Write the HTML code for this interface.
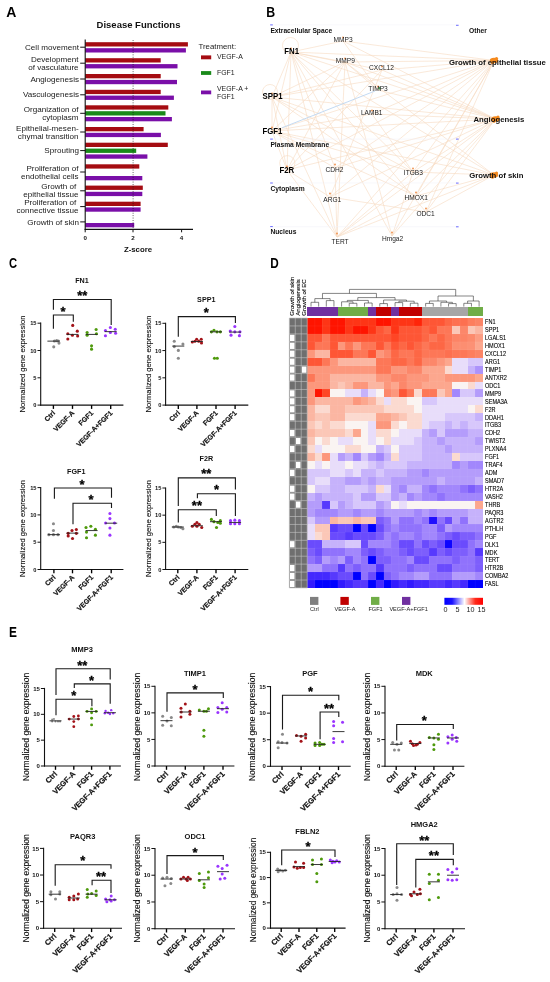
<!DOCTYPE html>
<html><head><meta charset="utf-8"><title>Figure</title>
<style>html,body{margin:0;padding:0;background:#fff}svg{display:block}text{font-family:'Liberation Sans', sans-serif}</style>
</head><body>
<svg width="550" height="982" viewBox="0 0 550 982">
<rect x="0" y="0" width="550" height="982" fill="#ffffff"/>
<text transform="translate(6.3,16.9) scale(1.0,1)" font-size="14" font-weight="bold" fill="#000">A</text>
<text transform="translate(96.60,27.60) scale(1.145,1)" font-size="8.3" font-weight="bold" text-anchor="start" fill="#111">Disease Functions</text>
<rect x="85.20" y="42.20" width="102.70" height="4.30" fill="#a50c12"/>
<rect x="85.20" y="48.20" width="100.70" height="4.30" fill="#7a0fa8"/>
<rect x="85.20" y="58.20" width="75.50" height="4.30" fill="#a50c12"/>
<rect x="85.20" y="64.10" width="92.30" height="4.30" fill="#7a0fa8"/>
<rect x="85.20" y="74.00" width="75.50" height="4.30" fill="#a50c12"/>
<rect x="85.20" y="79.90" width="91.80" height="4.30" fill="#7a0fa8"/>
<rect x="85.20" y="89.80" width="75.50" height="4.30" fill="#a50c12"/>
<rect x="85.20" y="95.60" width="88.70" height="4.30" fill="#7a0fa8"/>
<rect x="85.20" y="105.30" width="83.10" height="4.30" fill="#a50c12"/>
<rect x="85.20" y="111.20" width="80.30" height="4.30" fill="#1a8a1a"/>
<rect x="85.20" y="117.00" width="86.70" height="4.30" fill="#7a0fa8"/>
<rect x="85.20" y="127.00" width="58.40" height="4.30" fill="#a50c12"/>
<rect x="85.20" y="132.80" width="75.70" height="4.30" fill="#7a0fa8"/>
<rect x="85.20" y="142.70" width="82.60" height="4.30" fill="#a50c12"/>
<rect x="85.20" y="148.60" width="51.00" height="4.30" fill="#1a8a1a"/>
<rect x="85.20" y="154.40" width="62.20" height="4.30" fill="#7a0fa8"/>
<rect x="85.20" y="164.30" width="54.10" height="4.30" fill="#a50c12"/>
<rect x="85.20" y="176.00" width="57.10" height="4.30" fill="#7a0fa8"/>
<rect x="85.20" y="185.60" width="57.60" height="4.30" fill="#a50c12"/>
<rect x="85.20" y="191.80" width="57.10" height="4.30" fill="#7a0fa8"/>
<rect x="85.20" y="201.70" width="55.40" height="4.30" fill="#a50c12"/>
<rect x="85.20" y="207.40" width="55.40" height="4.30" fill="#7a0fa8"/>
<rect x="85.20" y="223.00" width="49.00" height="4.30" fill="#7a0fa8"/>
<line x1="133.10" y1="40.00" x2="133.10" y2="229.00" stroke="#111" stroke-width="0.7" stroke-dasharray="0.9 1.5"/>
<line x1="85.20" y1="39.50" x2="85.20" y2="229.90" stroke="#111" stroke-width="1.1"/>
<line x1="84.70" y1="229.40" x2="193.00" y2="229.40" stroke="#111" stroke-width="1.1"/>
<line x1="85.20" y1="229.40" x2="85.20" y2="232.30" stroke="#111" stroke-width="1"/>
<text x="85.20" y="239.50" font-size="6.2" font-weight="bold" text-anchor="middle" fill="#111">0</text>
<line x1="133.00" y1="229.40" x2="133.00" y2="232.30" stroke="#111" stroke-width="1"/>
<text x="133.00" y="239.50" font-size="6.2" font-weight="bold" text-anchor="middle" fill="#111">2</text>
<line x1="181.60" y1="229.40" x2="181.60" y2="232.30" stroke="#111" stroke-width="1"/>
<text x="181.60" y="239.50" font-size="6.2" font-weight="bold" text-anchor="middle" fill="#111">4</text>
<text x="138.00" y="252.40" font-size="7.8" font-weight="bold" text-anchor="middle" fill="#111">Z-score</text>
<line x1="80.20" y1="47.20" x2="85.20" y2="47.20" stroke="#111" stroke-width="1"/>
<text transform="translate(79.00,49.80) scale(1.125,1)" font-size="7.2" font-weight="normal" text-anchor="end" fill="#1a1a1a">Cell movement</text>
<line x1="80.20" y1="63.20" x2="85.20" y2="63.20" stroke="#111" stroke-width="1"/>
<text transform="translate(78.60,61.70) scale(1.125,1)" font-size="7.2" font-weight="normal" text-anchor="end" fill="#1a1a1a">Development</text>
<text transform="translate(78.60,69.80) scale(1.125,1)" font-size="7.2" font-weight="normal" text-anchor="end" fill="#1a1a1a">of vasculature</text>
<line x1="80.20" y1="79.00" x2="85.20" y2="79.00" stroke="#111" stroke-width="1"/>
<text transform="translate(79.00,81.60) scale(1.125,1)" font-size="7.2" font-weight="normal" text-anchor="end" fill="#1a1a1a">Angiogenesis</text>
<line x1="80.20" y1="94.80" x2="85.20" y2="94.80" stroke="#111" stroke-width="1"/>
<text transform="translate(79.00,97.40) scale(1.125,1)" font-size="7.2" font-weight="normal" text-anchor="end" fill="#1a1a1a">Vasculogenesis</text>
<line x1="80.20" y1="113.30" x2="85.20" y2="113.30" stroke="#111" stroke-width="1"/>
<text transform="translate(78.60,111.80) scale(1.125,1)" font-size="7.2" font-weight="normal" text-anchor="end" fill="#1a1a1a">Organization of</text>
<text transform="translate(78.60,119.90) scale(1.125,1)" font-size="7.2" font-weight="normal" text-anchor="end" fill="#1a1a1a">cytoplasm</text>
<line x1="80.20" y1="132.00" x2="85.20" y2="132.00" stroke="#111" stroke-width="1"/>
<text transform="translate(78.60,130.50) scale(1.125,1)" font-size="7.2" font-weight="normal" text-anchor="end" fill="#1a1a1a">Epithelial-mesen-</text>
<text transform="translate(78.60,138.60) scale(1.125,1)" font-size="7.2" font-weight="normal" text-anchor="end" fill="#1a1a1a">chymal transition</text>
<line x1="80.20" y1="150.60" x2="85.20" y2="150.60" stroke="#111" stroke-width="1"/>
<text transform="translate(79.00,153.20) scale(1.125,1)" font-size="7.2" font-weight="normal" text-anchor="end" fill="#1a1a1a">Sprouting</text>
<line x1="80.20" y1="172.00" x2="85.20" y2="172.00" stroke="#111" stroke-width="1"/>
<text transform="translate(78.60,170.50) scale(1.125,1)" font-size="7.2" font-weight="normal" text-anchor="end" fill="#1a1a1a">Proliferation of</text>
<text transform="translate(78.60,178.60) scale(1.125,1)" font-size="7.2" font-weight="normal" text-anchor="end" fill="#1a1a1a">endothelial cells</text>
<line x1="80.20" y1="190.80" x2="85.20" y2="190.80" stroke="#111" stroke-width="1"/>
<text transform="translate(78.60,189.30) scale(1.125,1)" font-size="7.2" font-weight="normal" text-anchor="end" fill="#1a1a1a">Growth of </text>
<text transform="translate(78.60,197.40) scale(1.125,1)" font-size="7.2" font-weight="normal" text-anchor="end" fill="#1a1a1a">epithelial tissue</text>
<line x1="80.20" y1="206.60" x2="85.20" y2="206.60" stroke="#111" stroke-width="1"/>
<text transform="translate(78.60,205.10) scale(1.125,1)" font-size="7.2" font-weight="normal" text-anchor="end" fill="#1a1a1a">Proliferation of </text>
<text transform="translate(78.60,213.20) scale(1.125,1)" font-size="7.2" font-weight="normal" text-anchor="end" fill="#1a1a1a">connective tissue</text>
<line x1="80.20" y1="221.90" x2="85.20" y2="221.90" stroke="#111" stroke-width="1"/>
<text transform="translate(79.00,224.50) scale(1.125,1)" font-size="7.2" font-weight="normal" text-anchor="end" fill="#1a1a1a">Growth of skin</text>
<text transform="translate(198.50,49.10) scale(1.12,1)" font-size="7.0" font-weight="normal" text-anchor="start" fill="#222">Treatment:</text>
<rect x="201.00" y="55.40" width="10.20" height="3.90" fill="#a50c12"/>
<text transform="translate(217.00,59.30) scale(1.1,1)" font-size="6.3" font-weight="normal" text-anchor="start" fill="#1c1c1c">VEGF-A</text>
<rect x="201.00" y="71.10" width="10.20" height="3.80" fill="#1a8a1a"/>
<text transform="translate(217.00,74.90) scale(1.1,1)" font-size="6.3" font-weight="normal" text-anchor="start" fill="#1c1c1c">FGF1</text>
<rect x="201.00" y="90.50" width="10.20" height="3.80" fill="#7a0fa8"/>
<text transform="translate(217.00,90.50) scale(1.1,1)" font-size="6.3" font-weight="normal" text-anchor="start" fill="#1c1c1c">VEGF-A +</text>
<text transform="translate(217.00,98.60) scale(1.1,1)" font-size="6.3" font-weight="normal" text-anchor="start" fill="#1c1c1c">FGF1</text>
<text transform="translate(266.2,16.9) scale(0.88,1)" font-size="14" font-weight="bold" fill="#000">B</text>
<g stroke="#f5d3b6" stroke-width="0.6" fill="none" opacity="0.85">
<line x1="291" y1="52" x2="494" y2="60.5"/>
<line x1="291" y1="52" x2="495.5" y2="119"/>
<line x1="291" y1="52" x2="494" y2="175"/>
<line x1="343" y1="41" x2="494" y2="60.5"/>
<line x1="343" y1="41" x2="495.5" y2="119"/>
<line x1="345" y1="62" x2="494" y2="60.5"/>
<line x1="345" y1="62" x2="495.5" y2="119"/>
<line x1="345" y1="62" x2="494" y2="175"/>
<line x1="382" y1="70" x2="494" y2="60.5"/>
<line x1="382" y1="70" x2="495.5" y2="119"/>
<line x1="378" y1="90" x2="495.5" y2="119"/>
<line x1="372" y1="114" x2="494" y2="60.5"/>
<line x1="372" y1="114" x2="495.5" y2="119"/>
<line x1="272" y1="97" x2="494" y2="60.5"/>
<line x1="272" y1="97" x2="495.5" y2="119"/>
<line x1="272" y1="97" x2="494" y2="175"/>
<line x1="272" y1="131" x2="494" y2="60.5"/>
<line x1="272" y1="131" x2="495.5" y2="119"/>
<line x1="272" y1="131" x2="494" y2="175"/>
<line x1="287" y1="170" x2="494" y2="60.5"/>
<line x1="287" y1="170" x2="495.5" y2="119"/>
<line x1="335" y1="168" x2="494" y2="60.5"/>
<line x1="335" y1="168" x2="495.5" y2="119"/>
<line x1="413" y1="172" x2="494" y2="60.5"/>
<line x1="413" y1="172" x2="495.5" y2="119"/>
<line x1="413" y1="172" x2="494" y2="175"/>
<line x1="330" y1="197" x2="494" y2="60.5"/>
<line x1="330" y1="197" x2="495.5" y2="119"/>
<line x1="416" y1="196" x2="494" y2="60.5"/>
<line x1="416" y1="196" x2="495.5" y2="119"/>
<line x1="416" y1="196" x2="494" y2="175"/>
<line x1="426" y1="212" x2="494" y2="60.5"/>
<line x1="426" y1="212" x2="495.5" y2="119"/>
<line x1="426" y1="212" x2="494" y2="175"/>
<line x1="337" y1="237" x2="494" y2="60.5"/>
<line x1="337" y1="237" x2="495.5" y2="119"/>
<line x1="337" y1="237" x2="494" y2="175"/>
<line x1="392" y1="236" x2="494" y2="60.5"/>
<line x1="392" y1="236" x2="495.5" y2="119"/>
<line x1="291" y1="52" x2="272" y2="97"/>
<line x1="291" y1="52" x2="272" y2="131"/>
<line x1="291" y1="52" x2="287" y2="170"/>
<line x1="291" y1="52" x2="337" y2="237"/>
<line x1="291" y1="52" x2="345" y2="62"/>
<line x1="291" y1="52" x2="343" y2="41"/>
<line x1="291" y1="52" x2="382" y2="70"/>
<line x1="291" y1="52" x2="413" y2="172"/>
<line x1="291" y1="52" x2="335" y2="168"/>
<line x1="291" y1="52" x2="392" y2="236"/>
<line x1="291" y1="52" x2="426" y2="212"/>
<line x1="272" y1="97" x2="272" y2="131"/>
<line x1="272" y1="97" x2="345" y2="62"/>
<line x1="272" y1="97" x2="382" y2="70"/>
<line x1="272" y1="97" x2="413" y2="172"/>
<line x1="272" y1="97" x2="416" y2="196"/>
<line x1="272" y1="97" x2="337" y2="237"/>
<line x1="272" y1="97" x2="287" y2="170"/>
<line x1="272" y1="131" x2="287" y2="170"/>
<line x1="272" y1="131" x2="345" y2="62"/>
<line x1="272" y1="131" x2="335" y2="168"/>
<line x1="272" y1="131" x2="413" y2="172"/>
<line x1="272" y1="131" x2="372" y2="114"/>
<line x1="272" y1="131" x2="416" y2="196"/>
<line x1="287" y1="170" x2="330" y2="197"/>
<line x1="287" y1="170" x2="337" y2="237"/>
<line x1="287" y1="170" x2="345" y2="62"/>
<line x1="287" y1="170" x2="382" y2="70"/>
<line x1="345" y1="62" x2="337" y2="237"/>
<line x1="345" y1="62" x2="392" y2="236"/>
<line x1="382" y1="70" x2="330" y2="197"/>
<line x1="335" y1="168" x2="337" y2="237"/>
<line x1="330" y1="197" x2="426" y2="212"/>
<line x1="337" y1="237" x2="416" y2="196"/>
<line x1="337" y1="237" x2="413" y2="172"/>
<line x1="392" y1="236" x2="413" y2="172"/>
<line x1="372" y1="114" x2="413" y2="172"/>
<line x1="343" y1="41" x2="378" y2="90"/>
<line x1="378" y1="90" x2="345" y2="62"/>
<circle cx="290.5" cy="45.5" r="8"/><circle cx="270" cy="92" r="7.5"/><circle cx="287.3" cy="163.2" r="7.6"/>
</g>
<line x1="282.00" y1="127.80" x2="375.00" y2="91.00" stroke="#bcd6f2" stroke-width="0.9"/>
<circle cx="379.5" cy="88.2" r="1.3" fill="#58b45a"/>
<ellipse cx="494" cy="60.5" rx="4.2" ry="2.8" fill="#f58a1f"/>
<circle cx="496.5" cy="58.5" r="1.6" fill="#f58a1f"/><circle cx="492.5" cy="62.8" r="1.5" fill="#f58a1f"/>
<ellipse cx="495.5" cy="119" rx="4.2" ry="2.8" fill="#f58a1f"/>
<circle cx="498.0" cy="117" r="1.6" fill="#f58a1f"/><circle cx="494.0" cy="121.3" r="1.5" fill="#f58a1f"/>
<ellipse cx="494" cy="175" rx="4.2" ry="2.8" fill="#f58a1f"/>
<circle cx="496.5" cy="173" r="1.6" fill="#f58a1f"/><circle cx="492.5" cy="177.3" r="1.5" fill="#f58a1f"/>
<circle cx="291" cy="48.5" r="0.9" fill="#f0904a"/>
<circle cx="343" cy="37.5" r="0.9" fill="#f0904a"/>
<circle cx="345" cy="58.5" r="0.9" fill="#f0904a"/>
<circle cx="382" cy="66.5" r="0.9" fill="#f0904a"/>
<circle cx="378" cy="86.5" r="0.9" fill="#f0904a"/>
<circle cx="372" cy="110.5" r="0.9" fill="#f0904a"/>
<circle cx="272" cy="93.5" r="0.9" fill="#f0904a"/>
<circle cx="272" cy="127.5" r="0.9" fill="#f0904a"/>
<circle cx="287" cy="166.5" r="0.9" fill="#f0904a"/>
<circle cx="335" cy="164.5" r="0.9" fill="#f0904a"/>
<circle cx="413" cy="168.5" r="0.9" fill="#f0904a"/>
<circle cx="330" cy="193.5" r="0.9" fill="#f0904a"/>
<circle cx="416" cy="192.5" r="0.9" fill="#f0904a"/>
<circle cx="426" cy="208.5" r="0.9" fill="#f0904a"/>
<circle cx="337" cy="233.5" r="0.9" fill="#f0904a"/>
<circle cx="392" cy="232.5" r="0.9" fill="#f0904a"/>
<line x1="270.00" y1="24.90" x2="458.60" y2="24.90" stroke="#f3f3f9" stroke-width="0.6"/>
<line x1="270.00" y1="139.10" x2="458.60" y2="139.10" stroke="#f3f3f9" stroke-width="0.6"/>
<line x1="270.00" y1="183.00" x2="458.60" y2="183.00" stroke="#f3f3f9" stroke-width="0.6"/>
<line x1="270.00" y1="226.70" x2="458.60" y2="226.70" stroke="#f3f3f9" stroke-width="0.6"/>
<text x="270.40" y="33.30" font-size="6.7" font-weight="bold" text-anchor="start" fill="#111">Extracellular Space</text>
<text x="469.00" y="33.30" font-size="6.7" font-weight="bold" text-anchor="start" fill="#111">Other</text>
<text x="270.40" y="147.30" font-size="6.7" font-weight="bold" text-anchor="start" fill="#111">Plasma Membrane</text>
<text x="270.40" y="190.90" font-size="6.7" font-weight="bold" text-anchor="start" fill="#111">Cytoplasm</text>
<text x="270.40" y="234.30" font-size="6.7" font-weight="bold" text-anchor="start" fill="#111">Nucleus</text>
<line x1="270.20" y1="24.90" x2="272.80" y2="24.90" stroke="#5b5bff" stroke-width="0.9"/>
<line x1="456.00" y1="25.30" x2="458.60" y2="25.30" stroke="#5b5bff" stroke-width="0.9"/>
<line x1="270.20" y1="139.10" x2="272.80" y2="139.10" stroke="#5b5bff" stroke-width="0.9"/>
<line x1="456.00" y1="139.10" x2="458.60" y2="139.10" stroke="#5b5bff" stroke-width="0.9"/>
<line x1="270.20" y1="183.00" x2="272.80" y2="183.00" stroke="#5b5bff" stroke-width="0.9"/>
<line x1="456.00" y1="183.10" x2="458.60" y2="183.10" stroke="#5b5bff" stroke-width="0.9"/>
<line x1="270.20" y1="226.60" x2="272.80" y2="226.60" stroke="#5b5bff" stroke-width="0.9"/>
<line x1="456.00" y1="226.80" x2="458.60" y2="226.80" stroke="#5b5bff" stroke-width="0.9"/>
<text transform="translate(284.30,54.10) scale(0.93,1)" font-size="8.4" font-weight="bold" text-anchor="start" fill="#000">FN1</text>
<text transform="translate(262.50,98.60) scale(0.93,1)" font-size="8.4" font-weight="bold" text-anchor="start" fill="#000">SPP1</text>
<text transform="translate(262.50,133.60) scale(0.93,1)" font-size="8.4" font-weight="bold" text-anchor="start" fill="#000">FGF1</text>
<text transform="translate(279.50,173.20) scale(0.93,1)" font-size="8.4" font-weight="bold" text-anchor="start" fill="#000">F2R</text>
<text x="449.00" y="64.70" font-size="7.75" font-weight="bold" text-anchor="start" fill="#111">Growth of epithelial tissue</text>
<text x="473.50" y="121.50" font-size="7.75" font-weight="bold" text-anchor="start" fill="#111">Angiogenesis</text>
<text x="469.20" y="178.30" font-size="7.75" font-weight="bold" text-anchor="start" fill="#111">Growth of skin</text>
<text x="333.60" y="41.80" font-size="6.6" font-weight="normal" text-anchor="start" fill="#222">MMP3</text>
<text x="335.80" y="62.80" font-size="6.6" font-weight="normal" text-anchor="start" fill="#222">MMP9</text>
<text x="369.00" y="70.30" font-size="6.6" font-weight="normal" text-anchor="start" fill="#222">CXCL12</text>
<text x="368.30" y="90.60" font-size="6.6" font-weight="normal" text-anchor="start" fill="#222">TIMP3</text>
<text x="360.90" y="115.10" font-size="6.6" font-weight="normal" text-anchor="start" fill="#222">LAMB1</text>
<text x="325.50" y="172.30" font-size="6.6" font-weight="normal" text-anchor="start" fill="#222">CDH2</text>
<text x="403.80" y="175.30" font-size="6.6" font-weight="normal" text-anchor="start" fill="#222">ITGB3</text>
<text x="323.30" y="202.30" font-size="6.6" font-weight="normal" text-anchor="start" fill="#222">ARG1</text>
<text x="404.40" y="200.10" font-size="6.6" font-weight="normal" text-anchor="start" fill="#222">HMOX1</text>
<text x="416.40" y="216.20" font-size="6.6" font-weight="normal" text-anchor="start" fill="#222">ODC1</text>
<text x="331.50" y="244.00" font-size="6.6" font-weight="normal" text-anchor="start" fill="#222">TERT</text>
<text x="381.90" y="241.30" font-size="6.6" font-weight="normal" text-anchor="start" fill="#222">Hmga2</text>
<text transform="translate(9.0,268) scale(0.8,1)" font-size="14" font-weight="bold" fill="#000">C</text>
<text transform="translate(9.0,636.6) scale(0.85,1)" font-size="14" font-weight="bold" fill="#000">E</text>
<line x1="40.70" y1="322.60" x2="40.70" y2="405.65" stroke="#111" stroke-width="1.1"/>
<line x1="40.20" y1="405.10" x2="123.40" y2="405.10" stroke="#111" stroke-width="1.1"/>
<line x1="37.50" y1="405.10" x2="40.70" y2="405.10" stroke="#111" stroke-width="1"/>
<text x="36.50" y="407.15" font-size="5.7" font-weight="bold" text-anchor="end" fill="#111">0</text>
<line x1="37.50" y1="377.80" x2="40.70" y2="377.80" stroke="#111" stroke-width="1"/>
<text x="36.50" y="379.85" font-size="5.7" font-weight="bold" text-anchor="end" fill="#111">5</text>
<line x1="37.50" y1="350.50" x2="40.70" y2="350.50" stroke="#111" stroke-width="1"/>
<text x="36.50" y="352.55" font-size="5.7" font-weight="bold" text-anchor="end" fill="#111">10</text>
<line x1="37.50" y1="323.20" x2="40.70" y2="323.20" stroke="#111" stroke-width="1"/>
<text x="36.50" y="325.25" font-size="5.7" font-weight="bold" text-anchor="end" fill="#111">15</text>
<line x1="53.40" y1="405.10" x2="53.40" y2="408.90" stroke="#000" stroke-width="1.35"/>
<text x="55.60" y="413.50" font-size="6.9" font-weight="bold" text-anchor="end" fill="#111" transform="rotate(-45 55.60 413.50)" stroke="#111" stroke-width="0.18">Ctrl</text>
<line x1="72.50" y1="405.10" x2="72.50" y2="408.90" stroke="#000" stroke-width="1.35"/>
<text x="74.70" y="413.50" font-size="6.9" font-weight="bold" text-anchor="end" fill="#111" transform="rotate(-45 74.70 413.50)" stroke="#111" stroke-width="0.18">VEGF-A</text>
<line x1="91.60" y1="405.10" x2="91.60" y2="408.90" stroke="#000" stroke-width="1.35"/>
<text x="93.80" y="413.50" font-size="6.9" font-weight="bold" text-anchor="end" fill="#111" transform="rotate(-45 93.80 413.50)" stroke="#111" stroke-width="0.18">FGF1</text>
<line x1="110.70" y1="405.10" x2="110.70" y2="408.90" stroke="#000" stroke-width="1.35"/>
<text x="112.90" y="413.50" font-size="6.9" font-weight="bold" text-anchor="end" fill="#111" transform="rotate(-45 112.90 413.50)" stroke="#111" stroke-width="0.18">VEGF-A+FGF1</text>
<text x="82.00" y="282.60" font-size="7.2" font-weight="bold" text-anchor="middle" fill="#111">FN1</text>
<text x="25.15" y="364.00" font-size="7.65" font-weight="normal" text-anchor="middle" fill="#111" transform="rotate(-90 25.15 364.00)" stroke="#111" stroke-width="0.12">Normalized gene expression</text>
<circle cx="54.40" cy="340.96" r="1.55" fill="#8a8a8a"/>
<circle cx="56.69" cy="340.64" r="1.55" fill="#8a8a8a"/>
<circle cx="58.49" cy="340.96" r="1.55" fill="#8a8a8a"/>
<circle cx="58.98" cy="343.09" r="1.55" fill="#8a8a8a"/>
<circle cx="53.75" cy="346.85" r="1.55" fill="#8a8a8a"/>
<circle cx="72.73" cy="325.42" r="1.55" fill="#a31218"/>
<circle cx="77.31" cy="331.15" r="1.55" fill="#a31218"/>
<circle cx="67.82" cy="333.76" r="1.55" fill="#a31218"/>
<circle cx="72.40" cy="335.24" r="1.55" fill="#a31218"/>
<circle cx="77.64" cy="336.05" r="1.55" fill="#a31218"/>
<circle cx="67.82" cy="339.00" r="1.55" fill="#a31218"/>
<circle cx="96.13" cy="329.51" r="1.55" fill="#4e9a0c"/>
<circle cx="87.13" cy="332.45" r="1.55" fill="#4e9a0c"/>
<circle cx="96.45" cy="333.76" r="1.55" fill="#4e9a0c"/>
<circle cx="87.13" cy="335.24" r="1.55" fill="#4e9a0c"/>
<circle cx="91.55" cy="345.87" r="1.55" fill="#4e9a0c"/>
<circle cx="91.55" cy="349.15" r="1.55" fill="#4e9a0c"/>
<circle cx="110.36" cy="327.55" r="1.55" fill="#9a35ff"/>
<circle cx="105.45" cy="330.49" r="1.55" fill="#9a35ff"/>
<circle cx="115.27" cy="329.18" r="1.55" fill="#9a35ff"/>
<circle cx="110.36" cy="332.45" r="1.55" fill="#9a35ff"/>
<circle cx="115.60" cy="333.27" r="1.55" fill="#9a35ff"/>
<circle cx="105.45" cy="335.73" r="1.55" fill="#9a35ff"/>
<line x1="47.40" y1="341.13" x2="59.40" y2="341.13" stroke="#222" stroke-width="0.9"/>
<line x1="66.50" y1="334.42" x2="78.50" y2="334.42" stroke="#222" stroke-width="0.9"/>
<line x1="85.60" y1="334.42" x2="97.60" y2="334.42" stroke="#222" stroke-width="0.9"/>
<line x1="104.70" y1="331.64" x2="116.70" y2="331.64" stroke="#222" stroke-width="0.9"/>
<path d="M53.40 309.70 V299.50 H111.20 V325.00" fill="none" stroke="#1a1a1a" stroke-width="1.12"/>
<path d="M53.40 328.80 V315.00 H73.30 V321.70" fill="none" stroke="#1a1a1a" stroke-width="1.12"/>
<text x="82.30" y="300.20" font-size="13" font-weight="bold" text-anchor="middle" fill="#000" stroke="#000" stroke-width="0.3">**</text>
<text x="63.10" y="316.20" font-size="13" font-weight="bold" text-anchor="middle" fill="#000" stroke="#000" stroke-width="0.3">*</text>
<line x1="165.60" y1="322.70" x2="165.60" y2="405.65" stroke="#111" stroke-width="1.1"/>
<line x1="165.10" y1="405.10" x2="248.30" y2="405.10" stroke="#111" stroke-width="1.1"/>
<line x1="162.40" y1="405.10" x2="165.60" y2="405.10" stroke="#111" stroke-width="1"/>
<text x="161.40" y="407.15" font-size="5.7" font-weight="bold" text-anchor="end" fill="#111">0</text>
<line x1="162.40" y1="377.83" x2="165.60" y2="377.83" stroke="#111" stroke-width="1"/>
<text x="161.40" y="379.89" font-size="5.7" font-weight="bold" text-anchor="end" fill="#111">5</text>
<line x1="162.40" y1="350.57" x2="165.60" y2="350.57" stroke="#111" stroke-width="1"/>
<text x="161.40" y="352.62" font-size="5.7" font-weight="bold" text-anchor="end" fill="#111">10</text>
<line x1="162.40" y1="323.30" x2="165.60" y2="323.30" stroke="#111" stroke-width="1"/>
<text x="161.40" y="325.35" font-size="5.7" font-weight="bold" text-anchor="end" fill="#111">15</text>
<line x1="178.30" y1="405.10" x2="178.30" y2="408.90" stroke="#000" stroke-width="1.35"/>
<text x="180.50" y="413.50" font-size="6.9" font-weight="bold" text-anchor="end" fill="#111" transform="rotate(-45 180.50 413.50)" stroke="#111" stroke-width="0.18">Ctrl</text>
<line x1="196.90" y1="405.10" x2="196.90" y2="408.90" stroke="#000" stroke-width="1.35"/>
<text x="199.10" y="413.50" font-size="6.9" font-weight="bold" text-anchor="end" fill="#111" transform="rotate(-45 199.10 413.50)" stroke="#111" stroke-width="0.18">VEGF-A</text>
<line x1="216.00" y1="405.10" x2="216.00" y2="408.90" stroke="#000" stroke-width="1.35"/>
<text x="218.20" y="413.50" font-size="6.9" font-weight="bold" text-anchor="end" fill="#111" transform="rotate(-45 218.20 413.50)" stroke="#111" stroke-width="0.18">FGF1</text>
<line x1="235.10" y1="405.10" x2="235.10" y2="408.90" stroke="#000" stroke-width="1.35"/>
<text x="237.30" y="413.50" font-size="6.9" font-weight="bold" text-anchor="end" fill="#111" transform="rotate(-45 237.30 413.50)" stroke="#111" stroke-width="0.18">VEGF-A+FGF1</text>
<text x="206.30" y="302.40" font-size="7.2" font-weight="bold" text-anchor="middle" fill="#111">SPP1</text>
<text x="150.85" y="364.00" font-size="7.65" font-weight="normal" text-anchor="middle" fill="#111" transform="rotate(-90 150.85 364.00)" stroke="#111" stroke-width="0.12">Normalized gene expression</text>
<circle cx="174.27" cy="341.25" r="1.55" fill="#8a8a8a"/>
<circle cx="182.93" cy="344.05" r="1.55" fill="#8a8a8a"/>
<circle cx="174.27" cy="346.59" r="1.55" fill="#8a8a8a"/>
<circle cx="178.35" cy="350.41" r="1.55" fill="#8a8a8a"/>
<circle cx="178.35" cy="358.30" r="1.55" fill="#8a8a8a"/>
<circle cx="192.34" cy="342.01" r="1.55" fill="#a31218"/>
<circle cx="196.67" cy="339.21" r="1.55" fill="#a31218"/>
<circle cx="198.70" cy="341.25" r="1.55" fill="#a31218"/>
<circle cx="201.25" cy="339.21" r="1.55" fill="#a31218"/>
<circle cx="194.89" cy="341.25" r="1.55" fill="#a31218"/>
<circle cx="201.50" cy="343.03" r="1.55" fill="#a31218"/>
<circle cx="211.42" cy="331.83" r="1.55" fill="#4e9a0c"/>
<circle cx="213.97" cy="330.31" r="1.55" fill="#4e9a0c"/>
<circle cx="217.02" cy="331.83" r="1.55" fill="#4e9a0c"/>
<circle cx="220.33" cy="331.83" r="1.55" fill="#4e9a0c"/>
<circle cx="214.48" cy="358.30" r="1.55" fill="#4e9a0c"/>
<circle cx="217.28" cy="358.30" r="1.55" fill="#4e9a0c"/>
<circle cx="230.25" cy="331.07" r="1.55" fill="#9a35ff"/>
<circle cx="234.83" cy="326.49" r="1.55" fill="#9a35ff"/>
<circle cx="239.92" cy="331.83" r="1.55" fill="#9a35ff"/>
<circle cx="231.02" cy="335.14" r="1.55" fill="#9a35ff"/>
<circle cx="239.41" cy="335.65" r="1.55" fill="#9a35ff"/>
<circle cx="234.83" cy="331.83" r="1.55" fill="#9a35ff"/>
<line x1="172.30" y1="346.08" x2="184.30" y2="346.08" stroke="#222" stroke-width="0.9"/>
<line x1="190.90" y1="341.50" x2="202.90" y2="341.50" stroke="#222" stroke-width="0.9"/>
<line x1="210.00" y1="331.83" x2="222.00" y2="331.83" stroke="#222" stroke-width="0.9"/>
<line x1="229.10" y1="332.09" x2="241.10" y2="332.09" stroke="#222" stroke-width="0.9"/>
<path d="M178.30 336.70 V316.60 H235.40 V322.90" fill="none" stroke="#1a1a1a" stroke-width="1.12"/>
<text x="206.30" y="317.20" font-size="13" font-weight="bold" text-anchor="middle" fill="#000" stroke="#000" stroke-width="0.3">*</text>
<line x1="40.70" y1="487.00" x2="40.70" y2="570.05" stroke="#111" stroke-width="1.1"/>
<line x1="40.20" y1="569.50" x2="123.40" y2="569.50" stroke="#111" stroke-width="1.1"/>
<line x1="37.50" y1="569.50" x2="40.70" y2="569.50" stroke="#111" stroke-width="1"/>
<text x="36.50" y="571.55" font-size="5.7" font-weight="bold" text-anchor="end" fill="#111">0</text>
<line x1="37.50" y1="542.20" x2="40.70" y2="542.20" stroke="#111" stroke-width="1"/>
<text x="36.50" y="544.25" font-size="5.7" font-weight="bold" text-anchor="end" fill="#111">5</text>
<line x1="37.50" y1="514.90" x2="40.70" y2="514.90" stroke="#111" stroke-width="1"/>
<text x="36.50" y="516.95" font-size="5.7" font-weight="bold" text-anchor="end" fill="#111">10</text>
<line x1="37.50" y1="487.60" x2="40.70" y2="487.60" stroke="#111" stroke-width="1"/>
<text x="36.50" y="489.65" font-size="5.7" font-weight="bold" text-anchor="end" fill="#111">15</text>
<line x1="53.90" y1="569.50" x2="53.90" y2="573.30" stroke="#000" stroke-width="1.35"/>
<text x="56.10" y="577.90" font-size="6.9" font-weight="bold" text-anchor="end" fill="#111" transform="rotate(-45 56.10 577.90)" stroke="#111" stroke-width="0.18">Ctrl</text>
<line x1="72.50" y1="569.50" x2="72.50" y2="573.30" stroke="#000" stroke-width="1.35"/>
<text x="74.70" y="577.90" font-size="6.9" font-weight="bold" text-anchor="end" fill="#111" transform="rotate(-45 74.70 577.90)" stroke="#111" stroke-width="0.18">VEGF-A</text>
<line x1="91.60" y1="569.50" x2="91.60" y2="573.30" stroke="#000" stroke-width="1.35"/>
<text x="93.80" y="577.90" font-size="6.9" font-weight="bold" text-anchor="end" fill="#111" transform="rotate(-45 93.80 577.90)" stroke="#111" stroke-width="0.18">FGF1</text>
<line x1="111.20" y1="569.50" x2="111.20" y2="573.30" stroke="#000" stroke-width="1.35"/>
<text x="113.40" y="577.90" font-size="6.9" font-weight="bold" text-anchor="end" fill="#111" transform="rotate(-45 113.40 577.90)" stroke="#111" stroke-width="0.18">VEGF-A+FGF1</text>
<text x="76.30" y="474.10" font-size="7.2" font-weight="bold" text-anchor="middle" fill="#111">FGF1</text>
<text x="25.15" y="528.50" font-size="7.65" font-weight="normal" text-anchor="middle" fill="#111" transform="rotate(-90 25.15 528.50)" stroke="#111" stroke-width="0.12">Normalized gene expression</text>
<circle cx="53.44" cy="523.70" r="1.55" fill="#8a8a8a"/>
<circle cx="53.44" cy="530.57" r="1.55" fill="#8a8a8a"/>
<circle cx="48.85" cy="534.64" r="1.55" fill="#8a8a8a"/>
<circle cx="53.44" cy="534.64" r="1.55" fill="#8a8a8a"/>
<circle cx="58.02" cy="534.64" r="1.55" fill="#8a8a8a"/>
<circle cx="72.01" cy="530.57" r="1.55" fill="#a31218"/>
<circle cx="76.34" cy="529.55" r="1.55" fill="#a31218"/>
<circle cx="68.19" cy="533.37" r="1.55" fill="#a31218"/>
<circle cx="76.34" cy="533.37" r="1.55" fill="#a31218"/>
<circle cx="68.19" cy="535.92" r="1.55" fill="#a31218"/>
<circle cx="72.52" cy="538.46" r="1.55" fill="#a31218"/>
<circle cx="86.01" cy="527.52" r="1.55" fill="#4e9a0c"/>
<circle cx="90.84" cy="526.25" r="1.55" fill="#4e9a0c"/>
<circle cx="95.42" cy="529.30" r="1.55" fill="#4e9a0c"/>
<circle cx="86.51" cy="532.10" r="1.55" fill="#4e9a0c"/>
<circle cx="95.42" cy="535.15" r="1.55" fill="#4e9a0c"/>
<circle cx="86.51" cy="537.70" r="1.55" fill="#4e9a0c"/>
<circle cx="109.92" cy="513.52" r="1.55" fill="#9a35ff"/>
<circle cx="109.92" cy="518.61" r="1.55" fill="#9a35ff"/>
<circle cx="105.60" cy="522.94" r="1.55" fill="#9a35ff"/>
<circle cx="114.50" cy="522.94" r="1.55" fill="#9a35ff"/>
<circle cx="109.92" cy="528.03" r="1.55" fill="#9a35ff"/>
<circle cx="109.92" cy="535.15" r="1.55" fill="#9a35ff"/>
<line x1="47.90" y1="534.64" x2="59.90" y2="534.64" stroke="#222" stroke-width="0.9"/>
<line x1="66.50" y1="533.12" x2="78.50" y2="533.12" stroke="#222" stroke-width="0.9"/>
<line x1="85.60" y1="530.57" x2="97.60" y2="530.57" stroke="#222" stroke-width="0.9"/>
<line x1="105.20" y1="523.19" x2="117.20" y2="523.19" stroke="#222" stroke-width="0.9"/>
<path d="M54.40 498.80 V488.00 H111.50 V497.70" fill="none" stroke="#1a1a1a" stroke-width="1.12"/>
<path d="M73.00 524.20 V503.30 H111.50 V508.00" fill="none" stroke="#1a1a1a" stroke-width="1.12"/>
<text x="82.00" y="489.00" font-size="13" font-weight="bold" text-anchor="middle" fill="#000" stroke="#000" stroke-width="0.3">*</text>
<text x="91.10" y="504.00" font-size="13" font-weight="bold" text-anchor="middle" fill="#000" stroke="#000" stroke-width="0.3">*</text>
<line x1="165.60" y1="487.40" x2="165.60" y2="570.05" stroke="#111" stroke-width="1.1"/>
<line x1="165.10" y1="569.50" x2="248.30" y2="569.50" stroke="#111" stroke-width="1.1"/>
<line x1="162.40" y1="569.50" x2="165.60" y2="569.50" stroke="#111" stroke-width="1"/>
<text x="161.40" y="571.55" font-size="5.7" font-weight="bold" text-anchor="end" fill="#111">0</text>
<line x1="162.40" y1="542.33" x2="165.60" y2="542.33" stroke="#111" stroke-width="1"/>
<text x="161.40" y="544.39" font-size="5.7" font-weight="bold" text-anchor="end" fill="#111">5</text>
<line x1="162.40" y1="515.17" x2="165.60" y2="515.17" stroke="#111" stroke-width="1"/>
<text x="161.40" y="517.22" font-size="5.7" font-weight="bold" text-anchor="end" fill="#111">10</text>
<line x1="162.40" y1="488.00" x2="165.60" y2="488.00" stroke="#111" stroke-width="1"/>
<text x="161.40" y="490.05" font-size="5.7" font-weight="bold" text-anchor="end" fill="#111">15</text>
<line x1="177.80" y1="569.50" x2="177.80" y2="573.30" stroke="#000" stroke-width="1.35"/>
<text x="180.00" y="577.90" font-size="6.9" font-weight="bold" text-anchor="end" fill="#111" transform="rotate(-45 180.00 577.90)" stroke="#111" stroke-width="0.18">Ctrl</text>
<line x1="196.90" y1="569.50" x2="196.90" y2="573.30" stroke="#000" stroke-width="1.35"/>
<text x="199.10" y="577.90" font-size="6.9" font-weight="bold" text-anchor="end" fill="#111" transform="rotate(-45 199.10 577.90)" stroke="#111" stroke-width="0.18">VEGF-A</text>
<line x1="216.00" y1="569.50" x2="216.00" y2="573.30" stroke="#000" stroke-width="1.35"/>
<text x="218.20" y="577.90" font-size="6.9" font-weight="bold" text-anchor="end" fill="#111" transform="rotate(-45 218.20 577.90)" stroke="#111" stroke-width="0.18">FGF1</text>
<line x1="235.10" y1="569.50" x2="235.10" y2="573.30" stroke="#000" stroke-width="1.35"/>
<text x="237.30" y="577.90" font-size="6.9" font-weight="bold" text-anchor="end" fill="#111" transform="rotate(-45 237.30 577.90)" stroke="#111" stroke-width="0.18">VEGF-A+FGF1</text>
<text x="206.30" y="460.60" font-size="7.2" font-weight="bold" text-anchor="middle" fill="#111">F2R</text>
<text x="150.85" y="528.50" font-size="7.65" font-weight="normal" text-anchor="middle" fill="#111" transform="rotate(-90 150.85 528.50)" stroke="#111" stroke-width="0.12">Normalized gene expression</text>
<circle cx="173.77" cy="527.01" r="1.55" fill="#8a8a8a"/>
<circle cx="176.31" cy="526.25" r="1.55" fill="#8a8a8a"/>
<circle cx="178.35" cy="527.01" r="1.55" fill="#8a8a8a"/>
<circle cx="180.89" cy="527.52" r="1.55" fill="#8a8a8a"/>
<circle cx="182.93" cy="528.79" r="1.55" fill="#8a8a8a"/>
<circle cx="192.34" cy="526.25" r="1.55" fill="#a31218"/>
<circle cx="194.89" cy="524.21" r="1.55" fill="#a31218"/>
<circle cx="196.92" cy="522.43" r="1.55" fill="#a31218"/>
<circle cx="199.21" cy="524.21" r="1.55" fill="#a31218"/>
<circle cx="201.76" cy="527.52" r="1.55" fill="#a31218"/>
<circle cx="196.92" cy="526.25" r="1.55" fill="#a31218"/>
<circle cx="211.42" cy="519.38" r="1.55" fill="#4e9a0c"/>
<circle cx="220.33" cy="520.65" r="1.55" fill="#4e9a0c"/>
<circle cx="213.97" cy="521.67" r="1.55" fill="#4e9a0c"/>
<circle cx="217.79" cy="522.43" r="1.55" fill="#4e9a0c"/>
<circle cx="220.33" cy="523.19" r="1.55" fill="#4e9a0c"/>
<circle cx="216.51" cy="527.52" r="1.55" fill="#4e9a0c"/>
<circle cx="230.51" cy="520.65" r="1.55" fill="#9a35ff"/>
<circle cx="234.83" cy="520.14" r="1.55" fill="#9a35ff"/>
<circle cx="239.41" cy="520.65" r="1.55" fill="#9a35ff"/>
<circle cx="230.51" cy="523.70" r="1.55" fill="#9a35ff"/>
<circle cx="234.83" cy="523.70" r="1.55" fill="#9a35ff"/>
<circle cx="239.41" cy="523.70" r="1.55" fill="#9a35ff"/>
<line x1="171.80" y1="527.01" x2="183.80" y2="527.01" stroke="#222" stroke-width="0.9"/>
<line x1="190.90" y1="525.74" x2="202.90" y2="525.74" stroke="#222" stroke-width="0.9"/>
<line x1="210.00" y1="521.67" x2="222.00" y2="521.67" stroke="#222" stroke-width="0.9"/>
<line x1="229.10" y1="522.43" x2="241.10" y2="522.43" stroke="#222" stroke-width="0.9"/>
<path d="M178.30 505.90 V477.90 H235.40 V489.40" fill="none" stroke="#1a1a1a" stroke-width="1.12"/>
<path d="M197.40 498.30 V493.70 H235.40 V516.00" fill="none" stroke="#1a1a1a" stroke-width="1.12"/>
<path d="M178.30 522.40 V509.70 H216.30 V516.00" fill="none" stroke="#1a1a1a" stroke-width="1.12"/>
<text x="206.30" y="478.00" font-size="13" font-weight="bold" text-anchor="middle" fill="#000" stroke="#000" stroke-width="0.3">**</text>
<text x="216.50" y="494.10" font-size="13" font-weight="bold" text-anchor="middle" fill="#000" stroke="#000" stroke-width="0.3">*</text>
<text x="196.90" y="510.40" font-size="13" font-weight="bold" text-anchor="middle" fill="#000" stroke="#000" stroke-width="0.3">**</text>
<line x1="44.50" y1="687.90" x2="44.50" y2="766.55" stroke="#111" stroke-width="1.1"/>
<line x1="44.00" y1="766.00" x2="120.90" y2="766.00" stroke="#111" stroke-width="1.1"/>
<line x1="40.90" y1="766.00" x2="44.50" y2="766.00" stroke="#111" stroke-width="1"/>
<text x="39.90" y="768.16" font-size="6.0" font-weight="bold" text-anchor="end" fill="#111">0</text>
<line x1="40.90" y1="740.17" x2="44.50" y2="740.17" stroke="#111" stroke-width="1"/>
<text x="39.90" y="742.33" font-size="6.0" font-weight="bold" text-anchor="end" fill="#111">5</text>
<line x1="40.90" y1="714.33" x2="44.50" y2="714.33" stroke="#111" stroke-width="1"/>
<text x="39.90" y="716.49" font-size="6.0" font-weight="bold" text-anchor="end" fill="#111">10</text>
<line x1="40.90" y1="688.50" x2="44.50" y2="688.50" stroke="#111" stroke-width="1"/>
<text x="39.90" y="690.66" font-size="6.0" font-weight="bold" text-anchor="end" fill="#111">15</text>
<line x1="55.50" y1="766.00" x2="55.50" y2="769.80" stroke="#000" stroke-width="1.35"/>
<text x="57.70" y="774.40" font-size="7.6" font-weight="bold" text-anchor="end" fill="#111" transform="rotate(-45 57.70 774.40)" stroke="#111" stroke-width="0.18">Ctrl</text>
<line x1="73.80" y1="766.00" x2="73.80" y2="769.80" stroke="#000" stroke-width="1.35"/>
<text x="76.00" y="774.40" font-size="7.6" font-weight="bold" text-anchor="end" fill="#111" transform="rotate(-45 76.00 774.40)" stroke="#111" stroke-width="0.18">VEGF-A</text>
<line x1="91.60" y1="766.00" x2="91.60" y2="769.80" stroke="#000" stroke-width="1.35"/>
<text x="93.80" y="774.40" font-size="7.6" font-weight="bold" text-anchor="end" fill="#111" transform="rotate(-45 93.80 774.40)" stroke="#111" stroke-width="0.18">FGF1</text>
<line x1="109.90" y1="766.00" x2="109.90" y2="769.80" stroke="#000" stroke-width="1.35"/>
<text x="112.10" y="774.40" font-size="7.6" font-weight="bold" text-anchor="end" fill="#111" transform="rotate(-45 112.10 774.40)" stroke="#111" stroke-width="0.18">VEGF-A+FGF1</text>
<text x="82.20" y="652.20" font-size="7.5" font-weight="bold" text-anchor="middle" fill="#111">MMP3</text>
<text x="29.08" y="727.00" font-size="8.55" font-weight="normal" text-anchor="middle" fill="#111" transform="rotate(-90 29.08 727.00)" stroke="#111" stroke-width="0.12">Normalized gene expression</text>
<circle cx="52.16" cy="719.57" r="1.0" fill="#8a8a8a"/>
<circle cx="53.94" cy="719.06" r="1.0" fill="#8a8a8a"/>
<circle cx="52.16" cy="721.60" r="1.0" fill="#8a8a8a"/>
<circle cx="55.47" cy="721.60" r="1.0" fill="#8a8a8a"/>
<circle cx="58.02" cy="721.60" r="1.0" fill="#8a8a8a"/>
<circle cx="60.05" cy="721.60" r="1.0" fill="#8a8a8a"/>
<circle cx="73.79" cy="716.51" r="1.4" fill="#a31218"/>
<circle cx="69.21" cy="719.06" r="1.4" fill="#a31218"/>
<circle cx="78.37" cy="719.06" r="1.4" fill="#a31218"/>
<circle cx="73.79" cy="721.60" r="1.4" fill="#a31218"/>
<circle cx="78.37" cy="716.01" r="1.4" fill="#a31218"/>
<circle cx="73.79" cy="726.69" r="1.4" fill="#a31218"/>
<circle cx="91.60" cy="708.88" r="1.45" fill="#4e9a0c"/>
<circle cx="87.02" cy="711.42" r="1.45" fill="#4e9a0c"/>
<circle cx="96.18" cy="711.42" r="1.45" fill="#4e9a0c"/>
<circle cx="91.60" cy="712.70" r="1.45" fill="#4e9a0c"/>
<circle cx="91.60" cy="718.30" r="1.45" fill="#4e9a0c"/>
<circle cx="91.60" cy="724.91" r="1.45" fill="#4e9a0c"/>
<circle cx="105.60" cy="710.92" r="1.2" fill="#9a35ff"/>
<circle cx="111.20" cy="710.15" r="1.2" fill="#9a35ff"/>
<circle cx="108.14" cy="712.70" r="1.2" fill="#9a35ff"/>
<circle cx="113.23" cy="713.21" r="1.2" fill="#9a35ff"/>
<circle cx="104.83" cy="713.21" r="1.2" fill="#9a35ff"/>
<circle cx="109.92" cy="713.97" r="1.2" fill="#9a35ff"/>
<line x1="49.50" y1="720.84" x2="61.50" y2="720.84" stroke="#222" stroke-width="0.9"/>
<line x1="67.80" y1="719.06" x2="79.80" y2="719.06" stroke="#222" stroke-width="0.9"/>
<line x1="85.60" y1="711.42" x2="97.60" y2="711.42" stroke="#222" stroke-width="0.9"/>
<line x1="103.90" y1="712.70" x2="115.90" y2="712.70" stroke="#222" stroke-width="0.9"/>
<path d="M56.00 694.90 V668.70 H110.20 V679.60" fill="none" stroke="#1a1a1a" stroke-width="1.12"/>
<path d="M74.30 688.00 V683.90 H110.20 V703.80" fill="none" stroke="#1a1a1a" stroke-width="1.12"/>
<path d="M56.00 715.20 V699.20 H91.90 V706.30" fill="none" stroke="#1a1a1a" stroke-width="1.12"/>
<text x="82.20" y="669.50" font-size="13" font-weight="bold" text-anchor="middle" fill="#000" stroke="#000" stroke-width="0.3">**</text>
<text x="91.60" y="684.80" font-size="13" font-weight="bold" text-anchor="middle" fill="#000" stroke="#000" stroke-width="0.3">*</text>
<text x="73.80" y="700.10" font-size="13" font-weight="bold" text-anchor="middle" fill="#000" stroke="#000" stroke-width="0.3">*</text>
<line x1="155.00" y1="685.70" x2="155.00" y2="766.55" stroke="#111" stroke-width="1.1"/>
<line x1="154.50" y1="766.00" x2="234.40" y2="766.00" stroke="#111" stroke-width="1.1"/>
<line x1="151.40" y1="766.00" x2="155.00" y2="766.00" stroke="#111" stroke-width="1"/>
<text x="150.40" y="768.16" font-size="6.0" font-weight="bold" text-anchor="end" fill="#111">0</text>
<line x1="151.40" y1="739.43" x2="155.00" y2="739.43" stroke="#111" stroke-width="1"/>
<text x="150.40" y="741.59" font-size="6.0" font-weight="bold" text-anchor="end" fill="#111">5</text>
<line x1="151.40" y1="712.87" x2="155.00" y2="712.87" stroke="#111" stroke-width="1"/>
<text x="150.40" y="715.03" font-size="6.0" font-weight="bold" text-anchor="end" fill="#111">10</text>
<line x1="151.40" y1="686.30" x2="155.00" y2="686.30" stroke="#111" stroke-width="1"/>
<text x="150.40" y="688.46" font-size="6.0" font-weight="bold" text-anchor="end" fill="#111">15</text>
<line x1="166.50" y1="766.00" x2="166.50" y2="769.80" stroke="#000" stroke-width="1.35"/>
<text x="168.70" y="774.40" font-size="7.6" font-weight="bold" text-anchor="end" fill="#111" transform="rotate(-45 168.70 774.40)" stroke="#111" stroke-width="0.18">Ctrl</text>
<line x1="185.30" y1="766.00" x2="185.30" y2="769.80" stroke="#000" stroke-width="1.35"/>
<text x="187.50" y="774.40" font-size="7.6" font-weight="bold" text-anchor="end" fill="#111" transform="rotate(-45 187.50 774.40)" stroke="#111" stroke-width="0.18">VEGF-A</text>
<line x1="203.90" y1="766.00" x2="203.90" y2="769.80" stroke="#000" stroke-width="1.35"/>
<text x="206.10" y="774.40" font-size="7.6" font-weight="bold" text-anchor="end" fill="#111" transform="rotate(-45 206.10 774.40)" stroke="#111" stroke-width="0.18">FGF1</text>
<line x1="223.00" y1="766.00" x2="223.00" y2="769.80" stroke="#000" stroke-width="1.35"/>
<text x="225.20" y="774.40" font-size="7.6" font-weight="bold" text-anchor="end" fill="#111" transform="rotate(-45 225.20 774.40)" stroke="#111" stroke-width="0.18">VEGF-A+FGF1</text>
<text x="195.00" y="676.20" font-size="7.5" font-weight="bold" text-anchor="middle" fill="#111">TIMP1</text>
<text x="140.28" y="727.00" font-size="8.55" font-weight="normal" text-anchor="middle" fill="#111" transform="rotate(-90 140.28 727.00)" stroke="#111" stroke-width="0.12">Normalized gene expression</text>
<circle cx="162.66" cy="716.34" r="1.5" fill="#8a8a8a"/>
<circle cx="171.31" cy="717.61" r="1.5" fill="#8a8a8a"/>
<circle cx="162.66" cy="725.24" r="1.5" fill="#8a8a8a"/>
<circle cx="171.31" cy="725.75" r="1.5" fill="#8a8a8a"/>
<circle cx="166.98" cy="720.92" r="1.5" fill="#8a8a8a"/>
<circle cx="185.31" cy="704.12" r="1.5" fill="#a31218"/>
<circle cx="180.98" cy="708.19" r="1.5" fill="#a31218"/>
<circle cx="189.89" cy="711.25" r="1.5" fill="#a31218"/>
<circle cx="181.23" cy="712.01" r="1.5" fill="#a31218"/>
<circle cx="180.98" cy="717.10" r="1.5" fill="#a31218"/>
<circle cx="189.89" cy="714.30" r="1.5" fill="#a31218"/>
<circle cx="208.46" cy="708.70" r="1.5" fill="#4e9a0c"/>
<circle cx="199.30" cy="709.97" r="1.5" fill="#4e9a0c"/>
<circle cx="203.88" cy="711.25" r="1.5" fill="#4e9a0c"/>
<circle cx="206.42" cy="711.25" r="1.5" fill="#4e9a0c"/>
<circle cx="203.88" cy="730.33" r="1.5" fill="#4e9a0c"/>
<circle cx="203.88" cy="736.18" r="1.5" fill="#4e9a0c"/>
<circle cx="222.20" cy="702.85" r="1.5" fill="#9a35ff"/>
<circle cx="217.88" cy="707.43" r="1.5" fill="#9a35ff"/>
<circle cx="226.78" cy="707.43" r="1.5" fill="#9a35ff"/>
<circle cx="222.20" cy="709.21" r="1.5" fill="#9a35ff"/>
<circle cx="217.88" cy="712.52" r="1.5" fill="#9a35ff"/>
<circle cx="226.78" cy="712.01" r="1.5" fill="#9a35ff"/>
<line x1="160.50" y1="720.66" x2="172.50" y2="720.66" stroke="#222" stroke-width="0.9"/>
<line x1="179.30" y1="712.01" x2="191.30" y2="712.01" stroke="#222" stroke-width="0.9"/>
<line x1="197.90" y1="711.25" x2="209.90" y2="711.25" stroke="#222" stroke-width="0.9"/>
<line x1="217.00" y1="708.70" x2="229.00" y2="708.70" stroke="#222" stroke-width="0.9"/>
<path d="M167.00 711.80 V692.90 H223.30 V698.00" fill="none" stroke="#1a1a1a" stroke-width="1.12"/>
<text x="195.00" y="694.10" font-size="13" font-weight="bold" text-anchor="middle" fill="#000" stroke="#000" stroke-width="0.3">*</text>
<line x1="270.50" y1="686.00" x2="270.50" y2="766.85" stroke="#111" stroke-width="1.1"/>
<line x1="270.00" y1="766.30" x2="350.70" y2="766.30" stroke="#111" stroke-width="1.1"/>
<line x1="266.90" y1="766.30" x2="270.50" y2="766.30" stroke="#111" stroke-width="1"/>
<text x="265.90" y="768.46" font-size="6.0" font-weight="bold" text-anchor="end" fill="#111">0</text>
<line x1="266.90" y1="739.73" x2="270.50" y2="739.73" stroke="#111" stroke-width="1"/>
<text x="265.90" y="741.89" font-size="6.0" font-weight="bold" text-anchor="end" fill="#111">5</text>
<line x1="266.90" y1="713.17" x2="270.50" y2="713.17" stroke="#111" stroke-width="1"/>
<text x="265.90" y="715.33" font-size="6.0" font-weight="bold" text-anchor="end" fill="#111">10</text>
<line x1="266.90" y1="686.60" x2="270.50" y2="686.60" stroke="#111" stroke-width="1"/>
<text x="265.90" y="688.76" font-size="6.0" font-weight="bold" text-anchor="end" fill="#111">15</text>
<line x1="282.00" y1="766.30" x2="282.00" y2="770.10" stroke="#000" stroke-width="1.35"/>
<text x="284.20" y="774.70" font-size="7.6" font-weight="bold" text-anchor="end" fill="#111" transform="rotate(-45 284.20 774.70)" stroke="#111" stroke-width="0.18">Ctrl</text>
<line x1="301.10" y1="766.30" x2="301.10" y2="770.10" stroke="#000" stroke-width="1.35"/>
<text x="303.30" y="774.70" font-size="7.6" font-weight="bold" text-anchor="end" fill="#111" transform="rotate(-45 303.30 774.70)" stroke="#111" stroke-width="0.18">VEGF-A</text>
<line x1="319.60" y1="766.30" x2="319.60" y2="770.10" stroke="#000" stroke-width="1.35"/>
<text x="321.80" y="774.70" font-size="7.6" font-weight="bold" text-anchor="end" fill="#111" transform="rotate(-45 321.80 774.70)" stroke="#111" stroke-width="0.18">FGF1</text>
<line x1="338.50" y1="766.30" x2="338.50" y2="770.10" stroke="#000" stroke-width="1.35"/>
<text x="340.70" y="774.70" font-size="7.6" font-weight="bold" text-anchor="end" fill="#111" transform="rotate(-45 340.70 774.70)" stroke="#111" stroke-width="0.18">VEGF-A+FGF1</text>
<text x="310.00" y="676.20" font-size="7.5" font-weight="bold" text-anchor="middle" fill="#111">PGF</text>
<text x="255.28" y="727.00" font-size="8.55" font-weight="normal" text-anchor="middle" fill="#111" transform="rotate(-90 255.28 727.00)" stroke="#111" stroke-width="0.12">Normalized gene expression</text>
<circle cx="282.49" cy="734.15" r="1.5" fill="#8a8a8a"/>
<circle cx="278.17" cy="741.78" r="1.5" fill="#8a8a8a"/>
<circle cx="281.98" cy="742.54" r="1.5" fill="#8a8a8a"/>
<circle cx="287.07" cy="743.05" r="1.5" fill="#8a8a8a"/>
<circle cx="278.17" cy="747.63" r="1.5" fill="#8a8a8a"/>
<circle cx="296.49" cy="735.42" r="1.5" fill="#a31218"/>
<circle cx="301.07" cy="736.18" r="1.5" fill="#a31218"/>
<circle cx="305.65" cy="734.15" r="1.5" fill="#a31218"/>
<circle cx="305.65" cy="737.96" r="1.5" fill="#a31218"/>
<circle cx="301.07" cy="741.27" r="1.5" fill="#a31218"/>
<circle cx="315.06" cy="743.05" r="1.5" fill="#4e9a0c"/>
<circle cx="319.64" cy="742.54" r="1.5" fill="#4e9a0c"/>
<circle cx="321.93" cy="744.33" r="1.5" fill="#4e9a0c"/>
<circle cx="323.97" cy="744.33" r="1.5" fill="#4e9a0c"/>
<circle cx="315.06" cy="745.60" r="1.5" fill="#4e9a0c"/>
<circle cx="319.64" cy="745.60" r="1.5" fill="#4e9a0c"/>
<circle cx="333.64" cy="721.42" r="1.5" fill="#9a35ff"/>
<circle cx="342.54" cy="722.19" r="1.5" fill="#9a35ff"/>
<circle cx="333.64" cy="725.75" r="1.5" fill="#9a35ff"/>
<circle cx="333.64" cy="738.47" r="1.5" fill="#9a35ff"/>
<circle cx="342.54" cy="741.78" r="1.5" fill="#9a35ff"/>
<circle cx="333.64" cy="742.54" r="1.5" fill="#9a35ff"/>
<line x1="276.00" y1="743.05" x2="288.00" y2="743.05" stroke="#222" stroke-width="0.9"/>
<line x1="295.10" y1="735.93" x2="307.10" y2="735.93" stroke="#222" stroke-width="0.9"/>
<line x1="313.60" y1="744.33" x2="325.60" y2="744.33" stroke="#222" stroke-width="0.9"/>
<line x1="332.50" y1="731.60" x2="344.50" y2="731.60" stroke="#222" stroke-width="0.9"/>
<path d="M282.50 729.60 V695.20 H338.80 V700.30" fill="none" stroke="#1a1a1a" stroke-width="1.12"/>
<path d="M320.10 739.20 V712.00 H338.80 V717.10" fill="none" stroke="#1a1a1a" stroke-width="1.12"/>
<text x="310.50" y="696.10" font-size="13" font-weight="bold" text-anchor="middle" fill="#000" stroke="#000" stroke-width="0.3">*</text>
<text x="329.00" y="712.70" font-size="13" font-weight="bold" text-anchor="middle" fill="#000" stroke="#000" stroke-width="0.3">**</text>
<line x1="385.00" y1="685.70" x2="385.00" y2="766.75" stroke="#111" stroke-width="1.1"/>
<line x1="384.50" y1="766.20" x2="464.40" y2="766.20" stroke="#111" stroke-width="1.1"/>
<line x1="381.40" y1="766.20" x2="385.00" y2="766.20" stroke="#111" stroke-width="1"/>
<text x="380.40" y="768.36" font-size="6.0" font-weight="bold" text-anchor="end" fill="#111">0</text>
<line x1="381.40" y1="739.57" x2="385.00" y2="739.57" stroke="#111" stroke-width="1"/>
<text x="380.40" y="741.73" font-size="6.0" font-weight="bold" text-anchor="end" fill="#111">5</text>
<line x1="381.40" y1="712.93" x2="385.00" y2="712.93" stroke="#111" stroke-width="1"/>
<text x="380.40" y="715.09" font-size="6.0" font-weight="bold" text-anchor="end" fill="#111">10</text>
<line x1="381.40" y1="686.30" x2="385.00" y2="686.30" stroke="#111" stroke-width="1"/>
<text x="380.40" y="688.46" font-size="6.0" font-weight="bold" text-anchor="end" fill="#111">15</text>
<line x1="396.20" y1="766.20" x2="396.20" y2="770.00" stroke="#000" stroke-width="1.35"/>
<text x="398.40" y="774.60" font-size="7.6" font-weight="bold" text-anchor="end" fill="#111" transform="rotate(-45 398.40 774.60)" stroke="#111" stroke-width="0.18">Ctrl</text>
<line x1="415.30" y1="766.20" x2="415.30" y2="770.00" stroke="#000" stroke-width="1.35"/>
<text x="417.50" y="774.60" font-size="7.6" font-weight="bold" text-anchor="end" fill="#111" transform="rotate(-45 417.50 774.60)" stroke="#111" stroke-width="0.18">VEGF-A</text>
<line x1="433.90" y1="766.20" x2="433.90" y2="770.00" stroke="#000" stroke-width="1.35"/>
<text x="436.10" y="774.60" font-size="7.6" font-weight="bold" text-anchor="end" fill="#111" transform="rotate(-45 436.10 774.60)" stroke="#111" stroke-width="0.18">FGF1</text>
<line x1="453.00" y1="766.20" x2="453.00" y2="770.00" stroke="#000" stroke-width="1.35"/>
<text x="455.20" y="774.60" font-size="7.6" font-weight="bold" text-anchor="end" fill="#111" transform="rotate(-45 455.20 774.60)" stroke="#111" stroke-width="0.18">VEGF-A+FGF1</text>
<text x="424.20" y="676.20" font-size="7.5" font-weight="bold" text-anchor="middle" fill="#111">MDK</text>
<text x="370.28" y="727.00" font-size="8.55" font-weight="normal" text-anchor="middle" fill="#111" transform="rotate(-90 370.28 727.00)" stroke="#111" stroke-width="0.12">Normalized gene expression</text>
<circle cx="392.66" cy="742.54" r="1.5" fill="#8a8a8a"/>
<circle cx="401.31" cy="743.05" r="1.5" fill="#8a8a8a"/>
<circle cx="396.98" cy="744.33" r="1.5" fill="#8a8a8a"/>
<circle cx="394.44" cy="749.92" r="1.5" fill="#8a8a8a"/>
<circle cx="398.77" cy="749.92" r="1.5" fill="#8a8a8a"/>
<circle cx="410.47" cy="741.27" r="1.5" fill="#a31218"/>
<circle cx="419.89" cy="742.54" r="1.5" fill="#a31218"/>
<circle cx="412.25" cy="743.82" r="1.5" fill="#a31218"/>
<circle cx="417.34" cy="744.33" r="1.5" fill="#a31218"/>
<circle cx="413.52" cy="745.60" r="1.5" fill="#a31218"/>
<circle cx="416.07" cy="745.09" r="1.5" fill="#a31218"/>
<circle cx="438.46" cy="734.15" r="1.5" fill="#4e9a0c"/>
<circle cx="429.30" cy="737.46" r="1.5" fill="#4e9a0c"/>
<circle cx="433.88" cy="737.96" r="1.5" fill="#4e9a0c"/>
<circle cx="438.46" cy="739.24" r="1.5" fill="#4e9a0c"/>
<circle cx="433.88" cy="744.83" r="1.5" fill="#4e9a0c"/>
<circle cx="433.88" cy="749.41" r="1.5" fill="#4e9a0c"/>
<circle cx="452.20" cy="734.91" r="1.5" fill="#9a35ff"/>
<circle cx="447.88" cy="736.69" r="1.5" fill="#9a35ff"/>
<circle cx="456.27" cy="737.46" r="1.5" fill="#9a35ff"/>
<circle cx="452.20" cy="739.24" r="1.5" fill="#9a35ff"/>
<circle cx="447.88" cy="743.05" r="1.5" fill="#9a35ff"/>
<circle cx="456.78" cy="741.27" r="1.5" fill="#9a35ff"/>
<line x1="390.20" y1="744.33" x2="402.20" y2="744.33" stroke="#222" stroke-width="0.9"/>
<line x1="409.30" y1="743.56" x2="421.30" y2="743.56" stroke="#222" stroke-width="0.9"/>
<line x1="427.90" y1="737.96" x2="439.90" y2="737.96" stroke="#222" stroke-width="0.9"/>
<line x1="447.00" y1="737.96" x2="459.00" y2="737.96" stroke="#222" stroke-width="0.9"/>
<path d="M396.70 740.50 V724.50 H453.30 V729.00" fill="none" stroke="#1a1a1a" stroke-width="1.12"/>
<text x="424.20" y="725.40" font-size="13" font-weight="bold" text-anchor="middle" fill="#000" stroke="#000" stroke-width="0.3">*</text>
<line x1="43.60" y1="847.80" x2="43.60" y2="928.85" stroke="#111" stroke-width="1.1"/>
<line x1="43.10" y1="928.30" x2="122.00" y2="928.30" stroke="#111" stroke-width="1.1"/>
<line x1="40.00" y1="928.30" x2="43.60" y2="928.30" stroke="#111" stroke-width="1"/>
<text x="39.00" y="930.46" font-size="6.0" font-weight="bold" text-anchor="end" fill="#111">0</text>
<line x1="40.00" y1="901.67" x2="43.60" y2="901.67" stroke="#111" stroke-width="1"/>
<text x="39.00" y="903.83" font-size="6.0" font-weight="bold" text-anchor="end" fill="#111">5</text>
<line x1="40.00" y1="875.03" x2="43.60" y2="875.03" stroke="#111" stroke-width="1"/>
<text x="39.00" y="877.19" font-size="6.0" font-weight="bold" text-anchor="end" fill="#111">10</text>
<line x1="40.00" y1="848.40" x2="43.60" y2="848.40" stroke="#111" stroke-width="1"/>
<text x="39.00" y="850.56" font-size="6.0" font-weight="bold" text-anchor="end" fill="#111">15</text>
<line x1="54.70" y1="928.30" x2="54.70" y2="932.10" stroke="#000" stroke-width="1.35"/>
<text x="56.90" y="936.70" font-size="7.6" font-weight="bold" text-anchor="end" fill="#111" transform="rotate(-45 56.90 936.70)" stroke="#111" stroke-width="0.18">Ctrl</text>
<line x1="73.80" y1="928.30" x2="73.80" y2="932.10" stroke="#000" stroke-width="1.35"/>
<text x="76.00" y="936.70" font-size="7.6" font-weight="bold" text-anchor="end" fill="#111" transform="rotate(-45 76.00 936.70)" stroke="#111" stroke-width="0.18">VEGF-A</text>
<line x1="91.60" y1="928.30" x2="91.60" y2="932.10" stroke="#000" stroke-width="1.35"/>
<text x="93.80" y="936.70" font-size="7.6" font-weight="bold" text-anchor="end" fill="#111" transform="rotate(-45 93.80 936.70)" stroke="#111" stroke-width="0.18">FGF1</text>
<line x1="110.70" y1="928.30" x2="110.70" y2="932.10" stroke="#000" stroke-width="1.35"/>
<text x="112.90" y="936.70" font-size="7.6" font-weight="bold" text-anchor="end" fill="#111" transform="rotate(-45 112.90 936.70)" stroke="#111" stroke-width="0.18">VEGF-A+FGF1</text>
<text x="82.70" y="838.60" font-size="7.5" font-weight="bold" text-anchor="middle" fill="#111">PAQR3</text>
<text x="29.08" y="888.30" font-size="8.55" font-weight="normal" text-anchor="middle" fill="#111" transform="rotate(-90 29.08 888.30)" stroke="#111" stroke-width="0.12">Normalized gene expression</text>
<circle cx="50.89" cy="891.65" r="1.5" fill="#8a8a8a"/>
<circle cx="59.80" cy="891.65" r="1.5" fill="#8a8a8a"/>
<circle cx="50.89" cy="894.71" r="1.5" fill="#8a8a8a"/>
<circle cx="59.80" cy="893.94" r="1.5" fill="#8a8a8a"/>
<circle cx="55.47" cy="899.03" r="1.5" fill="#8a8a8a"/>
<circle cx="69.21" cy="897.25" r="1.5" fill="#a31218"/>
<circle cx="73.79" cy="895.98" r="1.5" fill="#a31218"/>
<circle cx="78.37" cy="893.94" r="1.5" fill="#a31218"/>
<circle cx="69.21" cy="899.80" r="1.5" fill="#a31218"/>
<circle cx="73.79" cy="899.80" r="1.5" fill="#a31218"/>
<circle cx="77.61" cy="899.03" r="1.5" fill="#a31218"/>
<circle cx="87.28" cy="889.62" r="1.5" fill="#4e9a0c"/>
<circle cx="96.18" cy="890.89" r="1.5" fill="#4e9a0c"/>
<circle cx="87.79" cy="893.94" r="1.5" fill="#4e9a0c"/>
<circle cx="91.60" cy="893.44" r="1.5" fill="#4e9a0c"/>
<circle cx="96.18" cy="895.47" r="1.5" fill="#4e9a0c"/>
<circle cx="87.28" cy="897.25" r="1.5" fill="#4e9a0c"/>
<circle cx="111.20" cy="895.98" r="1.5" fill="#9a35ff"/>
<circle cx="105.60" cy="899.03" r="1.5" fill="#9a35ff"/>
<circle cx="109.92" cy="899.80" r="1.5" fill="#9a35ff"/>
<circle cx="114.50" cy="899.80" r="1.5" fill="#9a35ff"/>
<circle cx="106.87" cy="901.83" r="1.5" fill="#9a35ff"/>
<circle cx="111.20" cy="901.07" r="1.5" fill="#9a35ff"/>
<line x1="48.70" y1="894.20" x2="60.70" y2="894.20" stroke="#222" stroke-width="0.9"/>
<line x1="67.80" y1="898.02" x2="79.80" y2="898.02" stroke="#222" stroke-width="0.9"/>
<line x1="85.60" y1="894.20" x2="97.60" y2="894.20" stroke="#222" stroke-width="0.9"/>
<line x1="104.70" y1="899.80" x2="116.70" y2="899.80" stroke="#222" stroke-width="0.9"/>
<path d="M55.20 885.80 V864.70 H111.00 V868.80" fill="none" stroke="#1a1a1a" stroke-width="1.12"/>
<path d="M92.10 885.30 V880.20 H111.00 V892.90" fill="none" stroke="#1a1a1a" stroke-width="1.12"/>
<text x="82.70" y="864.80" font-size="13" font-weight="bold" text-anchor="middle" fill="#000" stroke="#000" stroke-width="0.3">*</text>
<text x="101.00" y="880.90" font-size="13" font-weight="bold" text-anchor="middle" fill="#000" stroke="#000" stroke-width="0.3">**</text>
<line x1="155.00" y1="847.90" x2="155.00" y2="929.25" stroke="#111" stroke-width="1.1"/>
<line x1="154.50" y1="928.70" x2="235.00" y2="928.70" stroke="#111" stroke-width="1.1"/>
<line x1="151.40" y1="928.70" x2="155.00" y2="928.70" stroke="#111" stroke-width="1"/>
<text x="150.40" y="930.86" font-size="6.0" font-weight="bold" text-anchor="end" fill="#111">0</text>
<line x1="151.40" y1="901.97" x2="155.00" y2="901.97" stroke="#111" stroke-width="1"/>
<text x="150.40" y="904.13" font-size="6.0" font-weight="bold" text-anchor="end" fill="#111">5</text>
<line x1="151.40" y1="875.23" x2="155.00" y2="875.23" stroke="#111" stroke-width="1"/>
<text x="150.40" y="877.39" font-size="6.0" font-weight="bold" text-anchor="end" fill="#111">10</text>
<line x1="151.40" y1="848.50" x2="155.00" y2="848.50" stroke="#111" stroke-width="1"/>
<text x="150.40" y="850.66" font-size="6.0" font-weight="bold" text-anchor="end" fill="#111">15</text>
<line x1="166.50" y1="928.70" x2="166.50" y2="932.50" stroke="#000" stroke-width="1.35"/>
<text x="168.70" y="937.10" font-size="7.6" font-weight="bold" text-anchor="end" fill="#111" transform="rotate(-45 168.70 937.10)" stroke="#111" stroke-width="0.18">Ctrl</text>
<line x1="185.30" y1="928.70" x2="185.30" y2="932.50" stroke="#000" stroke-width="1.35"/>
<text x="187.50" y="937.10" font-size="7.6" font-weight="bold" text-anchor="end" fill="#111" transform="rotate(-45 187.50 937.10)" stroke="#111" stroke-width="0.18">VEGF-A</text>
<line x1="203.90" y1="928.70" x2="203.90" y2="932.50" stroke="#000" stroke-width="1.35"/>
<text x="206.10" y="937.10" font-size="7.6" font-weight="bold" text-anchor="end" fill="#111" transform="rotate(-45 206.10 937.10)" stroke="#111" stroke-width="0.18">FGF1</text>
<line x1="223.00" y1="928.70" x2="223.00" y2="932.50" stroke="#000" stroke-width="1.35"/>
<text x="225.20" y="937.10" font-size="7.6" font-weight="bold" text-anchor="end" fill="#111" transform="rotate(-45 225.20 937.10)" stroke="#111" stroke-width="0.18">VEGF-A+FGF1</text>
<text x="195.00" y="838.60" font-size="7.5" font-weight="bold" text-anchor="middle" fill="#111">ODC1</text>
<text x="140.28" y="888.50" font-size="8.55" font-weight="normal" text-anchor="middle" fill="#111" transform="rotate(-90 140.28 888.50)" stroke="#111" stroke-width="0.12">Normalized gene expression</text>
<circle cx="162.66" cy="878.02" r="1.5" fill="#8a8a8a"/>
<circle cx="166.98" cy="877.25" r="1.5" fill="#8a8a8a"/>
<circle cx="171.31" cy="878.52" r="1.5" fill="#8a8a8a"/>
<circle cx="170.80" cy="883.61" r="1.5" fill="#8a8a8a"/>
<circle cx="164.95" cy="885.65" r="1.5" fill="#8a8a8a"/>
<circle cx="180.98" cy="879.03" r="1.5" fill="#a31218"/>
<circle cx="183.52" cy="877.25" r="1.5" fill="#a31218"/>
<circle cx="186.07" cy="879.03" r="1.5" fill="#a31218"/>
<circle cx="188.10" cy="877.25" r="1.5" fill="#a31218"/>
<circle cx="190.39" cy="879.03" r="1.5" fill="#a31218"/>
<circle cx="187.34" cy="880.56" r="1.5" fill="#a31218"/>
<circle cx="199.30" cy="873.44" r="1.5" fill="#4e9a0c"/>
<circle cx="208.46" cy="871.91" r="1.5" fill="#4e9a0c"/>
<circle cx="208.46" cy="877.76" r="1.5" fill="#4e9a0c"/>
<circle cx="199.30" cy="880.56" r="1.5" fill="#4e9a0c"/>
<circle cx="204.13" cy="884.12" r="1.5" fill="#4e9a0c"/>
<circle cx="204.13" cy="887.43" r="1.5" fill="#4e9a0c"/>
<circle cx="217.88" cy="866.31" r="1.5" fill="#9a35ff"/>
<circle cx="227.04" cy="865.29" r="1.5" fill="#9a35ff"/>
<circle cx="222.20" cy="868.60" r="1.5" fill="#9a35ff"/>
<circle cx="222.20" cy="873.94" r="1.5" fill="#9a35ff"/>
<circle cx="220.17" cy="879.03" r="1.5" fill="#9a35ff"/>
<circle cx="224.75" cy="878.27" r="1.5" fill="#9a35ff"/>
<line x1="160.50" y1="879.03" x2="172.50" y2="879.03" stroke="#222" stroke-width="0.9"/>
<line x1="179.30" y1="879.03" x2="191.30" y2="879.03" stroke="#222" stroke-width="0.9"/>
<line x1="197.90" y1="879.80" x2="209.90" y2="879.80" stroke="#222" stroke-width="0.9"/>
<line x1="217.00" y1="871.65" x2="229.00" y2="871.65" stroke="#222" stroke-width="0.9"/>
<path d="M167.00 874.00 V855.60 H223.30 V860.00" fill="none" stroke="#1a1a1a" stroke-width="1.12"/>
<text x="195.00" y="857.00" font-size="13" font-weight="bold" text-anchor="middle" fill="#000" stroke="#000" stroke-width="0.3">*</text>
<line x1="270.50" y1="851.70" x2="270.50" y2="928.65" stroke="#111" stroke-width="1.1"/>
<line x1="270.00" y1="928.10" x2="345.60" y2="928.10" stroke="#111" stroke-width="1.1"/>
<line x1="266.90" y1="928.10" x2="270.50" y2="928.10" stroke="#111" stroke-width="1"/>
<text x="265.90" y="930.26" font-size="6.0" font-weight="bold" text-anchor="end" fill="#111">0</text>
<line x1="266.90" y1="902.83" x2="270.50" y2="902.83" stroke="#111" stroke-width="1"/>
<text x="265.90" y="904.99" font-size="6.0" font-weight="bold" text-anchor="end" fill="#111">5</text>
<line x1="266.90" y1="877.57" x2="270.50" y2="877.57" stroke="#111" stroke-width="1"/>
<text x="265.90" y="879.73" font-size="6.0" font-weight="bold" text-anchor="end" fill="#111">10</text>
<line x1="266.90" y1="852.30" x2="270.50" y2="852.30" stroke="#111" stroke-width="1"/>
<text x="265.90" y="854.46" font-size="6.0" font-weight="bold" text-anchor="end" fill="#111">15</text>
<line x1="281.20" y1="928.10" x2="281.20" y2="931.90" stroke="#000" stroke-width="1.35"/>
<text x="283.40" y="936.50" font-size="7.6" font-weight="bold" text-anchor="end" fill="#111" transform="rotate(-45 283.40 936.50)" stroke="#111" stroke-width="0.18">Ctrl</text>
<line x1="299.00" y1="928.10" x2="299.00" y2="931.90" stroke="#000" stroke-width="1.35"/>
<text x="301.20" y="936.50" font-size="7.6" font-weight="bold" text-anchor="end" fill="#111" transform="rotate(-45 301.20 936.50)" stroke="#111" stroke-width="0.18">VEGF-A</text>
<line x1="316.80" y1="928.10" x2="316.80" y2="931.90" stroke="#000" stroke-width="1.35"/>
<text x="319.00" y="936.50" font-size="7.6" font-weight="bold" text-anchor="end" fill="#111" transform="rotate(-45 319.00 936.50)" stroke="#111" stroke-width="0.18">FGF1</text>
<line x1="334.70" y1="928.10" x2="334.70" y2="931.90" stroke="#000" stroke-width="1.35"/>
<text x="336.90" y="936.50" font-size="7.6" font-weight="bold" text-anchor="end" fill="#111" transform="rotate(-45 336.90 936.50)" stroke="#111" stroke-width="0.18">VEGF-A+FGF1</text>
<text x="307.40" y="834.10" font-size="7.5" font-weight="bold" text-anchor="middle" fill="#111">FBLN2</text>
<text x="255.67" y="890.00" font-size="8.25" font-weight="normal" text-anchor="middle" fill="#111" transform="rotate(-90 255.67 890.00)" stroke="#111" stroke-width="0.12">Normalized gene expression</text>
<circle cx="277.66" cy="869.11" r="1.5" fill="#8a8a8a"/>
<circle cx="280.20" cy="870.13" r="1.5" fill="#8a8a8a"/>
<circle cx="282.75" cy="870.89" r="1.5" fill="#8a8a8a"/>
<circle cx="285.29" cy="870.13" r="1.5" fill="#8a8a8a"/>
<circle cx="278.17" cy="871.65" r="1.5" fill="#8a8a8a"/>
<circle cx="295.47" cy="861.98" r="1.5" fill="#a31218"/>
<circle cx="303.61" cy="863.26" r="1.5" fill="#a31218"/>
<circle cx="293.94" cy="867.07" r="1.5" fill="#a31218"/>
<circle cx="297.25" cy="868.35" r="1.5" fill="#a31218"/>
<circle cx="300.31" cy="867.58" r="1.5" fill="#a31218"/>
<circle cx="303.61" cy="867.58" r="1.5" fill="#a31218"/>
<circle cx="312.52" cy="859.95" r="1.5" fill="#4e9a0c"/>
<circle cx="321.42" cy="858.93" r="1.5" fill="#4e9a0c"/>
<circle cx="312.52" cy="864.53" r="1.5" fill="#4e9a0c"/>
<circle cx="321.42" cy="864.53" r="1.5" fill="#4e9a0c"/>
<circle cx="316.84" cy="873.44" r="1.5" fill="#4e9a0c"/>
<circle cx="316.84" cy="881.83" r="1.5" fill="#4e9a0c"/>
<circle cx="330.33" cy="859.95" r="1.5" fill="#9a35ff"/>
<circle cx="332.88" cy="861.22" r="1.5" fill="#9a35ff"/>
<circle cx="334.91" cy="861.98" r="1.5" fill="#9a35ff"/>
<circle cx="336.69" cy="860.71" r="1.5" fill="#9a35ff"/>
<circle cx="339.24" cy="861.98" r="1.5" fill="#9a35ff"/>
<circle cx="332.11" cy="862.75" r="1.5" fill="#9a35ff"/>
<line x1="275.20" y1="870.38" x2="287.20" y2="870.38" stroke="#222" stroke-width="0.9"/>
<line x1="293.00" y1="866.56" x2="305.00" y2="866.56" stroke="#222" stroke-width="0.9"/>
<line x1="310.80" y1="864.53" x2="322.80" y2="864.53" stroke="#222" stroke-width="0.9"/>
<line x1="328.70" y1="861.48" x2="340.70" y2="861.48" stroke="#222" stroke-width="0.9"/>
<path d="M281.70 865.30 V850.00 H335.00 V856.90" fill="none" stroke="#1a1a1a" stroke-width="1.12"/>
<text x="308.00" y="851.20" font-size="13" font-weight="bold" text-anchor="middle" fill="#000" stroke="#000" stroke-width="0.3">*</text>
<line x1="385.00" y1="847.90" x2="385.00" y2="929.25" stroke="#111" stroke-width="1.1"/>
<line x1="384.50" y1="928.70" x2="465.00" y2="928.70" stroke="#111" stroke-width="1.1"/>
<line x1="381.40" y1="928.70" x2="385.00" y2="928.70" stroke="#111" stroke-width="1"/>
<text x="380.40" y="930.86" font-size="6.0" font-weight="bold" text-anchor="end" fill="#111">0</text>
<line x1="381.40" y1="901.97" x2="385.00" y2="901.97" stroke="#111" stroke-width="1"/>
<text x="380.40" y="904.13" font-size="6.0" font-weight="bold" text-anchor="end" fill="#111">5</text>
<line x1="381.40" y1="875.23" x2="385.00" y2="875.23" stroke="#111" stroke-width="1"/>
<text x="380.40" y="877.39" font-size="6.0" font-weight="bold" text-anchor="end" fill="#111">10</text>
<line x1="381.40" y1="848.50" x2="385.00" y2="848.50" stroke="#111" stroke-width="1"/>
<text x="380.40" y="850.66" font-size="6.0" font-weight="bold" text-anchor="end" fill="#111">15</text>
<line x1="396.20" y1="928.70" x2="396.20" y2="932.50" stroke="#000" stroke-width="1.35"/>
<text x="398.40" y="937.10" font-size="7.6" font-weight="bold" text-anchor="end" fill="#111" transform="rotate(-45 398.40 937.10)" stroke="#111" stroke-width="0.18">Ctrl</text>
<line x1="415.30" y1="928.70" x2="415.30" y2="932.50" stroke="#000" stroke-width="1.35"/>
<text x="417.50" y="937.10" font-size="7.6" font-weight="bold" text-anchor="end" fill="#111" transform="rotate(-45 417.50 937.10)" stroke="#111" stroke-width="0.18">VEGF-A</text>
<line x1="433.90" y1="928.70" x2="433.90" y2="932.50" stroke="#000" stroke-width="1.35"/>
<text x="436.10" y="937.10" font-size="7.6" font-weight="bold" text-anchor="end" fill="#111" transform="rotate(-45 436.10 937.10)" stroke="#111" stroke-width="0.18">FGF1</text>
<line x1="453.00" y1="928.70" x2="453.00" y2="932.50" stroke="#000" stroke-width="1.35"/>
<text x="455.20" y="937.10" font-size="7.6" font-weight="bold" text-anchor="end" fill="#111" transform="rotate(-45 455.20 937.10)" stroke="#111" stroke-width="0.18">VEGF-A+FGF1</text>
<text x="424.20" y="827.20" font-size="7.5" font-weight="bold" text-anchor="middle" fill="#111">HMGA2</text>
<text x="370.28" y="888.50" font-size="8.55" font-weight="normal" text-anchor="middle" fill="#111" transform="rotate(-90 370.28 888.50)" stroke="#111" stroke-width="0.12">Normalized gene expression</text>
<circle cx="396.98" cy="887.43" r="1.5" fill="#8a8a8a"/>
<circle cx="393.17" cy="894.55" r="1.5" fill="#8a8a8a"/>
<circle cx="401.56" cy="894.55" r="1.5" fill="#8a8a8a"/>
<circle cx="396.98" cy="900.15" r="1.5" fill="#8a8a8a"/>
<circle cx="396.98" cy="893.79" r="1.5" fill="#8a8a8a"/>
<circle cx="414.03" cy="892.01" r="1.5" fill="#a31218"/>
<circle cx="419.89" cy="889.21" r="1.5" fill="#a31218"/>
<circle cx="410.47" cy="894.55" r="1.5" fill="#a31218"/>
<circle cx="417.34" cy="894.55" r="1.5" fill="#a31218"/>
<circle cx="420.39" cy="893.79" r="1.5" fill="#a31218"/>
<circle cx="411.49" cy="895.83" r="1.5" fill="#a31218"/>
<circle cx="429.30" cy="874.20" r="1.5" fill="#4e9a0c"/>
<circle cx="438.46" cy="874.20" r="1.5" fill="#4e9a0c"/>
<circle cx="438.46" cy="880.31" r="1.5" fill="#4e9a0c"/>
<circle cx="429.30" cy="883.61" r="1.5" fill="#4e9a0c"/>
<circle cx="429.30" cy="899.64" r="1.5" fill="#4e9a0c"/>
<circle cx="438.46" cy="897.61" r="1.5" fill="#4e9a0c"/>
<circle cx="447.88" cy="869.62" r="1.5" fill="#9a35ff"/>
<circle cx="456.78" cy="868.85" r="1.5" fill="#9a35ff"/>
<circle cx="452.20" cy="872.16" r="1.5" fill="#9a35ff"/>
<circle cx="447.88" cy="879.80" r="1.5" fill="#9a35ff"/>
<circle cx="456.78" cy="879.80" r="1.5" fill="#9a35ff"/>
<circle cx="452.20" cy="880.31" r="1.5" fill="#9a35ff"/>
<line x1="390.20" y1="894.55" x2="402.20" y2="894.55" stroke="#222" stroke-width="0.9"/>
<line x1="409.30" y1="893.79" x2="421.30" y2="893.79" stroke="#222" stroke-width="0.9"/>
<line x1="427.90" y1="881.83" x2="439.90" y2="881.83" stroke="#222" stroke-width="0.9"/>
<line x1="447.00" y1="875.22" x2="459.00" y2="875.22" stroke="#222" stroke-width="0.9"/>
<path d="M396.70 884.90 V843.70 H453.30 V855.10" fill="none" stroke="#1a1a1a" stroke-width="1.12"/>
<path d="M415.80 887.40 V859.40 H453.30 V865.30" fill="none" stroke="#1a1a1a" stroke-width="1.12"/>
<text x="424.20" y="844.80" font-size="13" font-weight="bold" text-anchor="middle" fill="#000" stroke="#000" stroke-width="0.3">**</text>
<text x="433.90" y="860.30" font-size="13" font-weight="bold" text-anchor="middle" fill="#000" stroke="#000" stroke-width="0.3">**</text>
<text transform="translate(270.3,267.8) scale(0.84,1)" font-size="14" font-weight="bold" fill="#000">D</text>
<g shape-rendering="crispEdges">
<rect x="307.20" y="318.00" width="7.69" height="7.99" fill="#ff1400"/>
<rect x="314.84" y="318.00" width="7.69" height="7.99" fill="#ff1400"/>
<rect x="322.48" y="318.00" width="7.69" height="7.99" fill="#fe3516"/>
<rect x="330.12" y="318.00" width="7.69" height="7.99" fill="#ff1400"/>
<rect x="337.76" y="318.00" width="7.69" height="7.99" fill="#ff1400"/>
<rect x="345.40" y="318.00" width="7.69" height="7.99" fill="#fe3516"/>
<rect x="353.04" y="318.00" width="7.69" height="7.99" fill="#fe3516"/>
<rect x="360.68" y="318.00" width="7.69" height="7.99" fill="#fe3516"/>
<rect x="368.32" y="318.00" width="7.69" height="7.99" fill="#fe3516"/>
<rect x="375.96" y="318.00" width="7.69" height="7.99" fill="#ff1400"/>
<rect x="383.60" y="318.00" width="7.69" height="7.99" fill="#ff1400"/>
<rect x="391.24" y="318.00" width="7.69" height="7.99" fill="#fe3516"/>
<rect x="398.88" y="318.00" width="7.69" height="7.99" fill="#fe3516"/>
<rect x="406.52" y="318.00" width="7.69" height="7.99" fill="#fe3516"/>
<rect x="414.16" y="318.00" width="7.69" height="7.99" fill="#ff2509"/>
<rect x="421.80" y="318.00" width="7.69" height="7.99" fill="#fe5635"/>
<rect x="429.44" y="318.00" width="7.69" height="7.99" fill="#fe5635"/>
<rect x="437.08" y="318.00" width="7.69" height="7.99" fill="#fe5635"/>
<rect x="444.72" y="318.00" width="7.69" height="7.99" fill="#fd6745"/>
<rect x="452.36" y="318.00" width="7.69" height="7.99" fill="#fd7050"/>
<rect x="460.00" y="318.00" width="7.69" height="7.99" fill="#fd7050"/>
<rect x="467.64" y="318.00" width="7.69" height="7.99" fill="#fd7e5e"/>
<rect x="475.28" y="318.00" width="7.69" height="7.99" fill="#fc8466"/>
<rect x="307.20" y="325.94" width="7.69" height="7.99" fill="#ff1400"/>
<rect x="314.84" y="325.94" width="7.69" height="7.99" fill="#ff1400"/>
<rect x="322.48" y="325.94" width="7.69" height="7.99" fill="#fe3516"/>
<rect x="330.12" y="325.94" width="7.69" height="7.99" fill="#ff1400"/>
<rect x="337.76" y="325.94" width="7.69" height="7.99" fill="#ff1400"/>
<rect x="345.40" y="325.94" width="7.69" height="7.99" fill="#fe3516"/>
<rect x="353.04" y="325.94" width="7.69" height="7.99" fill="#ff1400"/>
<rect x="360.68" y="325.94" width="7.69" height="7.99" fill="#ff1400"/>
<rect x="368.32" y="325.94" width="7.69" height="7.99" fill="#fe3516"/>
<rect x="375.96" y="325.94" width="7.69" height="7.99" fill="#fe5635"/>
<rect x="383.60" y="325.94" width="7.69" height="7.99" fill="#fd6745"/>
<rect x="391.24" y="325.94" width="7.69" height="7.99" fill="#fe3516"/>
<rect x="398.88" y="325.94" width="7.69" height="7.99" fill="#fe5635"/>
<rect x="406.52" y="325.94" width="7.69" height="7.99" fill="#fe5635"/>
<rect x="414.16" y="325.94" width="7.69" height="7.99" fill="#fe5635"/>
<rect x="421.80" y="325.94" width="7.69" height="7.99" fill="#fd6745"/>
<rect x="429.44" y="325.94" width="7.69" height="7.99" fill="#fe5635"/>
<rect x="437.08" y="325.94" width="7.69" height="7.99" fill="#fd7757"/>
<rect x="444.72" y="325.94" width="7.69" height="7.99" fill="#fd7757"/>
<rect x="452.36" y="325.94" width="7.69" height="7.99" fill="#fbc7b7"/>
<rect x="460.00" y="325.94" width="7.69" height="7.99" fill="#fc876a"/>
<rect x="467.64" y="325.94" width="7.69" height="7.99" fill="#fbc7b7"/>
<rect x="475.28" y="325.94" width="7.69" height="7.99" fill="#fbb6a2"/>
<rect x="307.20" y="333.88" width="7.69" height="7.99" fill="#fe5635"/>
<rect x="314.84" y="333.88" width="7.69" height="7.99" fill="#fe5635"/>
<rect x="322.48" y="333.88" width="7.69" height="7.99" fill="#fd7757"/>
<rect x="330.12" y="333.88" width="7.69" height="7.99" fill="#fe5635"/>
<rect x="337.76" y="333.88" width="7.69" height="7.99" fill="#fe5635"/>
<rect x="345.40" y="333.88" width="7.69" height="7.99" fill="#fe5635"/>
<rect x="353.04" y="333.88" width="7.69" height="7.99" fill="#fe5635"/>
<rect x="360.68" y="333.88" width="7.69" height="7.99" fill="#fe5635"/>
<rect x="368.32" y="333.88" width="7.69" height="7.99" fill="#fe5635"/>
<rect x="375.96" y="333.88" width="7.69" height="7.99" fill="#fe5635"/>
<rect x="383.60" y="333.88" width="7.69" height="7.99" fill="#fe5635"/>
<rect x="391.24" y="333.88" width="7.69" height="7.99" fill="#fe4625"/>
<rect x="398.88" y="333.88" width="7.69" height="7.99" fill="#fe5635"/>
<rect x="406.52" y="333.88" width="7.69" height="7.99" fill="#fe5635"/>
<rect x="414.16" y="333.88" width="7.69" height="7.99" fill="#fe5635"/>
<rect x="421.80" y="333.88" width="7.69" height="7.99" fill="#fd6745"/>
<rect x="429.44" y="333.88" width="7.69" height="7.99" fill="#fd7757"/>
<rect x="437.08" y="333.88" width="7.69" height="7.99" fill="#fd6745"/>
<rect x="444.72" y="333.88" width="7.69" height="7.99" fill="#fd7757"/>
<rect x="452.36" y="333.88" width="7.69" height="7.99" fill="#fc8466"/>
<rect x="460.00" y="333.88" width="7.69" height="7.99" fill="#fc8466"/>
<rect x="467.64" y="333.88" width="7.69" height="7.99" fill="#fc8b6d"/>
<rect x="475.28" y="333.88" width="7.69" height="7.99" fill="#fc9d83"/>
<rect x="307.20" y="341.82" width="7.69" height="7.99" fill="#fe5635"/>
<rect x="314.84" y="341.82" width="7.69" height="7.99" fill="#fd7757"/>
<rect x="322.48" y="341.82" width="7.69" height="7.99" fill="#fd7757"/>
<rect x="330.12" y="341.82" width="7.69" height="7.99" fill="#fe5635"/>
<rect x="337.76" y="341.82" width="7.69" height="7.99" fill="#fc977c"/>
<rect x="345.40" y="341.82" width="7.69" height="7.99" fill="#fd7757"/>
<rect x="353.04" y="341.82" width="7.69" height="7.99" fill="#fc977c"/>
<rect x="360.68" y="341.82" width="7.69" height="7.99" fill="#fd7757"/>
<rect x="368.32" y="341.82" width="7.69" height="7.99" fill="#fd7757"/>
<rect x="375.96" y="341.82" width="7.69" height="7.99" fill="#fe5635"/>
<rect x="383.60" y="341.82" width="7.69" height="7.99" fill="#fd7757"/>
<rect x="391.24" y="341.82" width="7.69" height="7.99" fill="#fe5635"/>
<rect x="398.88" y="341.82" width="7.69" height="7.99" fill="#fd6745"/>
<rect x="406.52" y="341.82" width="7.69" height="7.99" fill="#fe5635"/>
<rect x="414.16" y="341.82" width="7.69" height="7.99" fill="#fd6745"/>
<rect x="421.80" y="341.82" width="7.69" height="7.99" fill="#fd7757"/>
<rect x="429.44" y="341.82" width="7.69" height="7.99" fill="#fd6745"/>
<rect x="437.08" y="341.82" width="7.69" height="7.99" fill="#fd6745"/>
<rect x="444.72" y="341.82" width="7.69" height="7.99" fill="#fd7757"/>
<rect x="452.36" y="341.82" width="7.69" height="7.99" fill="#fc8e71"/>
<rect x="460.00" y="341.82" width="7.69" height="7.99" fill="#fc8e71"/>
<rect x="467.64" y="341.82" width="7.69" height="7.99" fill="#fc9175"/>
<rect x="475.28" y="341.82" width="7.69" height="7.99" fill="#fca78e"/>
<rect x="307.20" y="349.76" width="7.69" height="7.99" fill="#fc977c"/>
<rect x="314.84" y="349.76" width="7.69" height="7.99" fill="#fbb6a2"/>
<rect x="322.48" y="349.76" width="7.69" height="7.99" fill="#fbb6a2"/>
<rect x="330.12" y="349.76" width="7.69" height="7.99" fill="#fe5635"/>
<rect x="337.76" y="349.76" width="7.69" height="7.99" fill="#fe5635"/>
<rect x="345.40" y="349.76" width="7.69" height="7.99" fill="#fe5635"/>
<rect x="353.04" y="349.76" width="7.69" height="7.99" fill="#fd7757"/>
<rect x="360.68" y="349.76" width="7.69" height="7.99" fill="#fd7757"/>
<rect x="368.32" y="349.76" width="7.69" height="7.99" fill="#fe5635"/>
<rect x="375.96" y="349.76" width="7.69" height="7.99" fill="#fc977c"/>
<rect x="383.60" y="349.76" width="7.69" height="7.99" fill="#fc876a"/>
<rect x="391.24" y="349.76" width="7.69" height="7.99" fill="#fd6745"/>
<rect x="398.88" y="349.76" width="7.69" height="7.99" fill="#fd7757"/>
<rect x="406.52" y="349.76" width="7.69" height="7.99" fill="#fd7757"/>
<rect x="414.16" y="349.76" width="7.69" height="7.99" fill="#fd6745"/>
<rect x="421.80" y="349.76" width="7.69" height="7.99" fill="#fd7757"/>
<rect x="429.44" y="349.76" width="7.69" height="7.99" fill="#fd7757"/>
<rect x="437.08" y="349.76" width="7.69" height="7.99" fill="#fd7757"/>
<rect x="444.72" y="349.76" width="7.69" height="7.99" fill="#fd7050"/>
<rect x="452.36" y="349.76" width="7.69" height="7.99" fill="#fd7757"/>
<rect x="460.00" y="349.76" width="7.69" height="7.99" fill="#fd7757"/>
<rect x="467.64" y="349.76" width="7.69" height="7.99" fill="#fd7e5e"/>
<rect x="475.28" y="349.76" width="7.69" height="7.99" fill="#fc8466"/>
<rect x="307.20" y="357.70" width="7.69" height="7.99" fill="#fe5635"/>
<rect x="314.84" y="357.70" width="7.69" height="7.99" fill="#fe5635"/>
<rect x="322.48" y="357.70" width="7.69" height="7.99" fill="#fd7757"/>
<rect x="330.12" y="357.70" width="7.69" height="7.99" fill="#fc977c"/>
<rect x="337.76" y="357.70" width="7.69" height="7.99" fill="#fbb6a2"/>
<rect x="345.40" y="357.70" width="7.69" height="7.99" fill="#fbb6a2"/>
<rect x="353.04" y="357.70" width="7.69" height="7.99" fill="#fbb6a2"/>
<rect x="360.68" y="357.70" width="7.69" height="7.99" fill="#fbb6a2"/>
<rect x="368.32" y="357.70" width="7.69" height="7.99" fill="#fbb6a2"/>
<rect x="375.96" y="357.70" width="7.69" height="7.99" fill="#fd7757"/>
<rect x="383.60" y="357.70" width="7.69" height="7.99" fill="#fd7757"/>
<rect x="391.24" y="357.70" width="7.69" height="7.99" fill="#fd6745"/>
<rect x="398.88" y="357.70" width="7.69" height="7.99" fill="#fd6745"/>
<rect x="406.52" y="357.70" width="7.69" height="7.99" fill="#fd7757"/>
<rect x="414.16" y="357.70" width="7.69" height="7.99" fill="#fd6745"/>
<rect x="421.80" y="357.70" width="7.69" height="7.99" fill="#fc876a"/>
<rect x="429.44" y="357.70" width="7.69" height="7.99" fill="#fc876a"/>
<rect x="437.08" y="357.70" width="7.69" height="7.99" fill="#fc977c"/>
<rect x="444.72" y="357.70" width="7.69" height="7.99" fill="#fca78e"/>
<rect x="452.36" y="357.70" width="7.69" height="7.99" fill="#e8ddfa"/>
<rect x="460.00" y="357.70" width="7.69" height="7.99" fill="#e8ddfa"/>
<rect x="467.64" y="357.70" width="7.69" height="7.99" fill="#d7c7fb"/>
<rect x="475.28" y="357.70" width="7.69" height="7.99" fill="#d7c7fb"/>
<rect x="307.20" y="365.64" width="7.69" height="7.99" fill="#fc977c"/>
<rect x="314.84" y="365.64" width="7.69" height="7.99" fill="#fc977c"/>
<rect x="322.48" y="365.64" width="7.69" height="7.99" fill="#fc977c"/>
<rect x="330.12" y="365.64" width="7.69" height="7.99" fill="#fc977c"/>
<rect x="337.76" y="365.64" width="7.69" height="7.99" fill="#fc977c"/>
<rect x="345.40" y="365.64" width="7.69" height="7.99" fill="#fc977c"/>
<rect x="353.04" y="365.64" width="7.69" height="7.99" fill="#fc977c"/>
<rect x="360.68" y="365.64" width="7.69" height="7.99" fill="#fc977c"/>
<rect x="368.32" y="365.64" width="7.69" height="7.99" fill="#fc977c"/>
<rect x="375.96" y="365.64" width="7.69" height="7.99" fill="#fd7757"/>
<rect x="383.60" y="365.64" width="7.69" height="7.99" fill="#fd7757"/>
<rect x="391.24" y="365.64" width="7.69" height="7.99" fill="#fc977c"/>
<rect x="398.88" y="365.64" width="7.69" height="7.99" fill="#fc977c"/>
<rect x="406.52" y="365.64" width="7.69" height="7.99" fill="#fc876a"/>
<rect x="414.16" y="365.64" width="7.69" height="7.99" fill="#fc876a"/>
<rect x="421.80" y="365.64" width="7.69" height="7.99" fill="#fca78e"/>
<rect x="429.44" y="365.64" width="7.69" height="7.99" fill="#fca78e"/>
<rect x="437.08" y="365.64" width="7.69" height="7.99" fill="#fca78e"/>
<rect x="444.72" y="365.64" width="7.69" height="7.99" fill="#fbdad0"/>
<rect x="452.36" y="365.64" width="7.69" height="7.99" fill="#e8ddfa"/>
<rect x="460.00" y="365.64" width="7.69" height="7.99" fill="#e8ddfa"/>
<rect x="467.64" y="365.64" width="7.69" height="7.99" fill="#c6b2fb"/>
<rect x="475.28" y="365.64" width="7.69" height="7.99" fill="#ad93fb"/>
<rect x="307.20" y="373.58" width="7.69" height="7.99" fill="#fd7757"/>
<rect x="314.84" y="373.58" width="7.69" height="7.99" fill="#fc977c"/>
<rect x="322.48" y="373.58" width="7.69" height="7.99" fill="#fc977c"/>
<rect x="330.12" y="373.58" width="7.69" height="7.99" fill="#fbb6a2"/>
<rect x="337.76" y="373.58" width="7.69" height="7.99" fill="#fbb6a2"/>
<rect x="345.40" y="373.58" width="7.69" height="7.99" fill="#fbb6a2"/>
<rect x="353.04" y="373.58" width="7.69" height="7.99" fill="#fbb6a2"/>
<rect x="360.68" y="373.58" width="7.69" height="7.99" fill="#fbb6a2"/>
<rect x="368.32" y="373.58" width="7.69" height="7.99" fill="#fbb6a2"/>
<rect x="375.96" y="373.58" width="7.69" height="7.99" fill="#fc977c"/>
<rect x="383.60" y="373.58" width="7.69" height="7.99" fill="#fc977c"/>
<rect x="391.24" y="373.58" width="7.69" height="7.99" fill="#fc876a"/>
<rect x="398.88" y="373.58" width="7.69" height="7.99" fill="#fc876a"/>
<rect x="406.52" y="373.58" width="7.69" height="7.99" fill="#fc977c"/>
<rect x="414.16" y="373.58" width="7.69" height="7.99" fill="#fc977c"/>
<rect x="421.80" y="373.58" width="7.69" height="7.99" fill="#fc977c"/>
<rect x="429.44" y="373.58" width="7.69" height="7.99" fill="#fca78e"/>
<rect x="437.08" y="373.58" width="7.69" height="7.99" fill="#fca78e"/>
<rect x="444.72" y="373.58" width="7.69" height="7.99" fill="#fc977c"/>
<rect x="452.36" y="373.58" width="7.69" height="7.99" fill="#fc977c"/>
<rect x="460.00" y="373.58" width="7.69" height="7.99" fill="#fc977c"/>
<rect x="467.64" y="373.58" width="7.69" height="7.99" fill="#fc977c"/>
<rect x="475.28" y="373.58" width="7.69" height="7.99" fill="#fca78e"/>
<rect x="307.20" y="381.52" width="7.69" height="7.99" fill="#fc977c"/>
<rect x="314.84" y="381.52" width="7.69" height="7.99" fill="#fc977c"/>
<rect x="322.48" y="381.52" width="7.69" height="7.99" fill="#fc977c"/>
<rect x="330.12" y="381.52" width="7.69" height="7.99" fill="#fbb6a2"/>
<rect x="337.76" y="381.52" width="7.69" height="7.99" fill="#fbc7b7"/>
<rect x="345.40" y="381.52" width="7.69" height="7.99" fill="#fbb6a2"/>
<rect x="353.04" y="381.52" width="7.69" height="7.99" fill="#fc977c"/>
<rect x="360.68" y="381.52" width="7.69" height="7.99" fill="#fc977c"/>
<rect x="368.32" y="381.52" width="7.69" height="7.99" fill="#fbb6a2"/>
<rect x="375.96" y="381.52" width="7.69" height="7.99" fill="#fbb6a2"/>
<rect x="383.60" y="381.52" width="7.69" height="7.99" fill="#fc977c"/>
<rect x="391.24" y="381.52" width="7.69" height="7.99" fill="#fca78e"/>
<rect x="398.88" y="381.52" width="7.69" height="7.99" fill="#fc876a"/>
<rect x="406.52" y="381.52" width="7.69" height="7.99" fill="#fc977c"/>
<rect x="414.16" y="381.52" width="7.69" height="7.99" fill="#fc977c"/>
<rect x="421.80" y="381.52" width="7.69" height="7.99" fill="#fca78e"/>
<rect x="429.44" y="381.52" width="7.69" height="7.99" fill="#fca78e"/>
<rect x="437.08" y="381.52" width="7.69" height="7.99" fill="#fca78e"/>
<rect x="444.72" y="381.52" width="7.69" height="7.99" fill="#fca78e"/>
<rect x="452.36" y="381.52" width="7.69" height="7.99" fill="#faf4f2"/>
<rect x="460.00" y="381.52" width="7.69" height="7.99" fill="#faf4f2"/>
<rect x="467.64" y="381.52" width="7.69" height="7.99" fill="#fbdad0"/>
<rect x="475.28" y="381.52" width="7.69" height="7.99" fill="#e8ddfa"/>
<rect x="307.20" y="389.46" width="7.69" height="7.99" fill="#fc977c"/>
<rect x="314.84" y="389.46" width="7.69" height="7.99" fill="#ff1400"/>
<rect x="322.48" y="389.46" width="7.69" height="7.99" fill="#fe4625"/>
<rect x="330.12" y="389.46" width="7.69" height="7.99" fill="#faf4f2"/>
<rect x="337.76" y="389.46" width="7.69" height="7.99" fill="#faf4f2"/>
<rect x="345.40" y="389.46" width="7.69" height="7.99" fill="#e8ddfa"/>
<rect x="353.04" y="389.46" width="7.69" height="7.99" fill="#e8ddfa"/>
<rect x="360.68" y="389.46" width="7.69" height="7.99" fill="#c6b2fb"/>
<rect x="368.32" y="389.46" width="7.69" height="7.99" fill="#e8ddfa"/>
<rect x="375.96" y="389.46" width="7.69" height="7.99" fill="#faf4f2"/>
<rect x="383.60" y="389.46" width="7.69" height="7.99" fill="#fc876a"/>
<rect x="391.24" y="389.46" width="7.69" height="7.99" fill="#fc977c"/>
<rect x="398.88" y="389.46" width="7.69" height="7.99" fill="#fe5635"/>
<rect x="406.52" y="389.46" width="7.69" height="7.99" fill="#fd7757"/>
<rect x="414.16" y="389.46" width="7.69" height="7.99" fill="#fbdad0"/>
<rect x="421.80" y="389.46" width="7.69" height="7.99" fill="#fd7757"/>
<rect x="429.44" y="389.46" width="7.69" height="7.99" fill="#fd7757"/>
<rect x="437.08" y="389.46" width="7.69" height="7.99" fill="#fbc7b7"/>
<rect x="444.72" y="389.46" width="7.69" height="7.99" fill="#fca78e"/>
<rect x="452.36" y="389.46" width="7.69" height="7.99" fill="#a287fc"/>
<rect x="460.00" y="389.46" width="7.69" height="7.99" fill="#d7c7fb"/>
<rect x="467.64" y="389.46" width="7.69" height="7.99" fill="#d7c7fb"/>
<rect x="475.28" y="389.46" width="7.69" height="7.99" fill="#b49cfb"/>
<rect x="307.20" y="397.40" width="7.69" height="7.99" fill="#fc977c"/>
<rect x="314.84" y="397.40" width="7.69" height="7.99" fill="#fbb6a2"/>
<rect x="322.48" y="397.40" width="7.69" height="7.99" fill="#fbb6a2"/>
<rect x="330.12" y="397.40" width="7.69" height="7.99" fill="#fbb6a2"/>
<rect x="337.76" y="397.40" width="7.69" height="7.99" fill="#fbb6a2"/>
<rect x="345.40" y="397.40" width="7.69" height="7.99" fill="#fbb6a2"/>
<rect x="353.04" y="397.40" width="7.69" height="7.99" fill="#fc977c"/>
<rect x="360.68" y="397.40" width="7.69" height="7.99" fill="#fca78e"/>
<rect x="368.32" y="397.40" width="7.69" height="7.99" fill="#fbb6a2"/>
<rect x="375.96" y="397.40" width="7.69" height="7.99" fill="#fbdad0"/>
<rect x="383.60" y="397.40" width="7.69" height="7.99" fill="#e8ddfa"/>
<rect x="391.24" y="397.40" width="7.69" height="7.99" fill="#fbdad0"/>
<rect x="398.88" y="397.40" width="7.69" height="7.99" fill="#fbdad0"/>
<rect x="406.52" y="397.40" width="7.69" height="7.99" fill="#faf4f2"/>
<rect x="414.16" y="397.40" width="7.69" height="7.99" fill="#faf4f2"/>
<rect x="421.80" y="397.40" width="7.69" height="7.99" fill="#d7c7fb"/>
<rect x="429.44" y="397.40" width="7.69" height="7.99" fill="#d7c7fb"/>
<rect x="437.08" y="397.40" width="7.69" height="7.99" fill="#e8ddfa"/>
<rect x="444.72" y="397.40" width="7.69" height="7.99" fill="#e8ddfa"/>
<rect x="452.36" y="397.40" width="7.69" height="7.99" fill="#e8ddfa"/>
<rect x="460.00" y="397.40" width="7.69" height="7.99" fill="#e8ddfa"/>
<rect x="467.64" y="397.40" width="7.69" height="7.99" fill="#e8ddfa"/>
<rect x="475.28" y="397.40" width="7.69" height="7.99" fill="#e8ddfa"/>
<rect x="307.20" y="405.34" width="7.69" height="7.99" fill="#fbb6a2"/>
<rect x="314.84" y="405.34" width="7.69" height="7.99" fill="#fbdad0"/>
<rect x="322.48" y="405.34" width="7.69" height="7.99" fill="#fbdad0"/>
<rect x="330.12" y="405.34" width="7.69" height="7.99" fill="#fbb6a2"/>
<rect x="337.76" y="405.34" width="7.69" height="7.99" fill="#fbb6a2"/>
<rect x="345.40" y="405.34" width="7.69" height="7.99" fill="#fbc7b7"/>
<rect x="353.04" y="405.34" width="7.69" height="7.99" fill="#fbc7b7"/>
<rect x="360.68" y="405.34" width="7.69" height="7.99" fill="#fbc7b7"/>
<rect x="368.32" y="405.34" width="7.69" height="7.99" fill="#fbc7b7"/>
<rect x="375.96" y="405.34" width="7.69" height="7.99" fill="#fbc7b7"/>
<rect x="383.60" y="405.34" width="7.69" height="7.99" fill="#fbdad0"/>
<rect x="391.24" y="405.34" width="7.69" height="7.99" fill="#fbdad0"/>
<rect x="398.88" y="405.34" width="7.69" height="7.99" fill="#fbdad0"/>
<rect x="406.52" y="405.34" width="7.69" height="7.99" fill="#fbdad0"/>
<rect x="414.16" y="405.34" width="7.69" height="7.99" fill="#faf4f2"/>
<rect x="421.80" y="405.34" width="7.69" height="7.99" fill="#e8ddfa"/>
<rect x="429.44" y="405.34" width="7.69" height="7.99" fill="#e8ddfa"/>
<rect x="437.08" y="405.34" width="7.69" height="7.99" fill="#e8ddfa"/>
<rect x="444.72" y="405.34" width="7.69" height="7.99" fill="#e8ddfa"/>
<rect x="452.36" y="405.34" width="7.69" height="7.99" fill="#e8ddfa"/>
<rect x="460.00" y="405.34" width="7.69" height="7.99" fill="#e8ddfa"/>
<rect x="467.64" y="405.34" width="7.69" height="7.99" fill="#faf4f2"/>
<rect x="475.28" y="405.34" width="7.69" height="7.99" fill="#fbdad0"/>
<rect x="307.20" y="413.28" width="7.69" height="7.99" fill="#fbb6a2"/>
<rect x="314.84" y="413.28" width="7.69" height="7.99" fill="#fbc7b7"/>
<rect x="322.48" y="413.28" width="7.69" height="7.99" fill="#fbc7b7"/>
<rect x="330.12" y="413.28" width="7.69" height="7.99" fill="#fbb6a2"/>
<rect x="337.76" y="413.28" width="7.69" height="7.99" fill="#fbb6a2"/>
<rect x="345.40" y="413.28" width="7.69" height="7.99" fill="#fbdad0"/>
<rect x="353.04" y="413.28" width="7.69" height="7.99" fill="#fbdad0"/>
<rect x="360.68" y="413.28" width="7.69" height="7.99" fill="#fbdad0"/>
<rect x="368.32" y="413.28" width="7.69" height="7.99" fill="#fbdad0"/>
<rect x="375.96" y="413.28" width="7.69" height="7.99" fill="#fca78e"/>
<rect x="383.60" y="413.28" width="7.69" height="7.99" fill="#fca78e"/>
<rect x="391.24" y="413.28" width="7.69" height="7.99" fill="#fbb6a2"/>
<rect x="398.88" y="413.28" width="7.69" height="7.99" fill="#fbc7b7"/>
<rect x="406.52" y="413.28" width="7.69" height="7.99" fill="#fbdad0"/>
<rect x="414.16" y="413.28" width="7.69" height="7.99" fill="#fbdad0"/>
<rect x="421.80" y="413.28" width="7.69" height="7.99" fill="#e8ddfa"/>
<rect x="429.44" y="413.28" width="7.69" height="7.99" fill="#e8ddfa"/>
<rect x="437.08" y="413.28" width="7.69" height="7.99" fill="#e8ddfa"/>
<rect x="444.72" y="413.28" width="7.69" height="7.99" fill="#d7c7fb"/>
<rect x="452.36" y="413.28" width="7.69" height="7.99" fill="#d7c7fb"/>
<rect x="460.00" y="413.28" width="7.69" height="7.99" fill="#d7c7fb"/>
<rect x="467.64" y="413.28" width="7.69" height="7.99" fill="#d7c7fb"/>
<rect x="475.28" y="413.28" width="7.69" height="7.99" fill="#c6b2fb"/>
<rect x="307.20" y="421.22" width="7.69" height="7.99" fill="#fbc7b7"/>
<rect x="314.84" y="421.22" width="7.69" height="7.99" fill="#fbdad0"/>
<rect x="322.48" y="421.22" width="7.69" height="7.99" fill="#fbc7b7"/>
<rect x="330.12" y="421.22" width="7.69" height="7.99" fill="#fbdad0"/>
<rect x="337.76" y="421.22" width="7.69" height="7.99" fill="#fbdad0"/>
<rect x="345.40" y="421.22" width="7.69" height="7.99" fill="#faf4f2"/>
<rect x="353.04" y="421.22" width="7.69" height="7.99" fill="#faf4f2"/>
<rect x="360.68" y="421.22" width="7.69" height="7.99" fill="#faf4f2"/>
<rect x="368.32" y="421.22" width="7.69" height="7.99" fill="#e8ddfa"/>
<rect x="375.96" y="421.22" width="7.69" height="7.99" fill="#fc977c"/>
<rect x="383.60" y="421.22" width="7.69" height="7.99" fill="#fc977c"/>
<rect x="391.24" y="421.22" width="7.69" height="7.99" fill="#fbdad0"/>
<rect x="398.88" y="421.22" width="7.69" height="7.99" fill="#faf4f2"/>
<rect x="406.52" y="421.22" width="7.69" height="7.99" fill="#fbdad0"/>
<rect x="414.16" y="421.22" width="7.69" height="7.99" fill="#fbdad0"/>
<rect x="421.80" y="421.22" width="7.69" height="7.99" fill="#e8ddfa"/>
<rect x="429.44" y="421.22" width="7.69" height="7.99" fill="#d7c7fb"/>
<rect x="437.08" y="421.22" width="7.69" height="7.99" fill="#d7c7fb"/>
<rect x="444.72" y="421.22" width="7.69" height="7.99" fill="#c6b2fb"/>
<rect x="452.36" y="421.22" width="7.69" height="7.99" fill="#d7c7fb"/>
<rect x="460.00" y="421.22" width="7.69" height="7.99" fill="#c6b2fb"/>
<rect x="467.64" y="421.22" width="7.69" height="7.99" fill="#d7c7fb"/>
<rect x="475.28" y="421.22" width="7.69" height="7.99" fill="#d7c7fb"/>
<rect x="307.20" y="429.16" width="7.69" height="7.99" fill="#fbb6a2"/>
<rect x="314.84" y="429.16" width="7.69" height="7.99" fill="#fbc7b7"/>
<rect x="322.48" y="429.16" width="7.69" height="7.99" fill="#fbc7b7"/>
<rect x="330.12" y="429.16" width="7.69" height="7.99" fill="#fbc7b7"/>
<rect x="337.76" y="429.16" width="7.69" height="7.99" fill="#fbc7b7"/>
<rect x="345.40" y="429.16" width="7.69" height="7.99" fill="#fbdad0"/>
<rect x="353.04" y="429.16" width="7.69" height="7.99" fill="#fca78e"/>
<rect x="360.68" y="429.16" width="7.69" height="7.99" fill="#faf4f2"/>
<rect x="368.32" y="429.16" width="7.69" height="7.99" fill="#e8ddfa"/>
<rect x="375.96" y="429.16" width="7.69" height="7.99" fill="#fbdad0"/>
<rect x="383.60" y="429.16" width="7.69" height="7.99" fill="#fbdad0"/>
<rect x="391.24" y="429.16" width="7.69" height="7.99" fill="#faf4f2"/>
<rect x="398.88" y="429.16" width="7.69" height="7.99" fill="#e8ddfa"/>
<rect x="406.52" y="429.16" width="7.69" height="7.99" fill="#e8ddfa"/>
<rect x="414.16" y="429.16" width="7.69" height="7.99" fill="#e8ddfa"/>
<rect x="421.80" y="429.16" width="7.69" height="7.99" fill="#c6b2fb"/>
<rect x="429.44" y="429.16" width="7.69" height="7.99" fill="#b49cfb"/>
<rect x="437.08" y="429.16" width="7.69" height="7.99" fill="#d7c7fb"/>
<rect x="444.72" y="429.16" width="7.69" height="7.99" fill="#b49cfb"/>
<rect x="452.36" y="429.16" width="7.69" height="7.99" fill="#b49cfb"/>
<rect x="460.00" y="429.16" width="7.69" height="7.99" fill="#b49cfb"/>
<rect x="467.64" y="429.16" width="7.69" height="7.99" fill="#c6b2fb"/>
<rect x="475.28" y="429.16" width="7.69" height="7.99" fill="#c6b2fb"/>
<rect x="307.20" y="437.10" width="7.69" height="7.99" fill="#fbc7b7"/>
<rect x="314.84" y="437.10" width="7.69" height="7.99" fill="#faf4f2"/>
<rect x="322.48" y="437.10" width="7.69" height="7.99" fill="#fbdad0"/>
<rect x="330.12" y="437.10" width="7.69" height="7.99" fill="#faf4f2"/>
<rect x="337.76" y="437.10" width="7.69" height="7.99" fill="#e8ddfa"/>
<rect x="345.40" y="437.10" width="7.69" height="7.99" fill="#e8ddfa"/>
<rect x="353.04" y="437.10" width="7.69" height="7.99" fill="#faf4f2"/>
<rect x="360.68" y="437.10" width="7.69" height="7.99" fill="#faf4f2"/>
<rect x="368.32" y="437.10" width="7.69" height="7.99" fill="#e8ddfa"/>
<rect x="375.96" y="437.10" width="7.69" height="7.99" fill="#faf4f2"/>
<rect x="383.60" y="437.10" width="7.69" height="7.99" fill="#fbdad0"/>
<rect x="391.24" y="437.10" width="7.69" height="7.99" fill="#e8ddfa"/>
<rect x="398.88" y="437.10" width="7.69" height="7.99" fill="#e8ddfa"/>
<rect x="406.52" y="437.10" width="7.69" height="7.99" fill="#e8ddfa"/>
<rect x="414.16" y="437.10" width="7.69" height="7.99" fill="#d7c7fb"/>
<rect x="421.80" y="437.10" width="7.69" height="7.99" fill="#c6b2fb"/>
<rect x="429.44" y="437.10" width="7.69" height="7.99" fill="#c6b2fb"/>
<rect x="437.08" y="437.10" width="7.69" height="7.99" fill="#b49cfb"/>
<rect x="444.72" y="437.10" width="7.69" height="7.99" fill="#c6b2fb"/>
<rect x="452.36" y="437.10" width="7.69" height="7.99" fill="#c6b2fb"/>
<rect x="460.00" y="437.10" width="7.69" height="7.99" fill="#c6b2fb"/>
<rect x="467.64" y="437.10" width="7.69" height="7.99" fill="#c6b2fb"/>
<rect x="475.28" y="437.10" width="7.69" height="7.99" fill="#b49cfb"/>
<rect x="307.20" y="445.04" width="7.69" height="7.99" fill="#fbdad0"/>
<rect x="314.84" y="445.04" width="7.69" height="7.99" fill="#e8ddfa"/>
<rect x="322.48" y="445.04" width="7.69" height="7.99" fill="#faf4f2"/>
<rect x="330.12" y="445.04" width="7.69" height="7.99" fill="#faf4f2"/>
<rect x="337.76" y="445.04" width="7.69" height="7.99" fill="#faf4f2"/>
<rect x="345.40" y="445.04" width="7.69" height="7.99" fill="#fbdad0"/>
<rect x="353.04" y="445.04" width="7.69" height="7.99" fill="#fbdad0"/>
<rect x="360.68" y="445.04" width="7.69" height="7.99" fill="#faf4f2"/>
<rect x="368.32" y="445.04" width="7.69" height="7.99" fill="#faf4f2"/>
<rect x="375.96" y="445.04" width="7.69" height="7.99" fill="#c6b2fb"/>
<rect x="383.60" y="445.04" width="7.69" height="7.99" fill="#d7c7fb"/>
<rect x="391.24" y="445.04" width="7.69" height="7.99" fill="#faf4f2"/>
<rect x="398.88" y="445.04" width="7.69" height="7.99" fill="#d7c7fb"/>
<rect x="406.52" y="445.04" width="7.69" height="7.99" fill="#d7c7fb"/>
<rect x="414.16" y="445.04" width="7.69" height="7.99" fill="#d7c7fb"/>
<rect x="421.80" y="445.04" width="7.69" height="7.99" fill="#c6b2fb"/>
<rect x="429.44" y="445.04" width="7.69" height="7.99" fill="#c6b2fb"/>
<rect x="437.08" y="445.04" width="7.69" height="7.99" fill="#c6b2fb"/>
<rect x="444.72" y="445.04" width="7.69" height="7.99" fill="#b49cfb"/>
<rect x="452.36" y="445.04" width="7.69" height="7.99" fill="#c6b2fb"/>
<rect x="460.00" y="445.04" width="7.69" height="7.99" fill="#c6b2fb"/>
<rect x="467.64" y="445.04" width="7.69" height="7.99" fill="#c6b2fb"/>
<rect x="475.28" y="445.04" width="7.69" height="7.99" fill="#c6b2fb"/>
<rect x="307.20" y="452.98" width="7.69" height="7.99" fill="#fbb6a2"/>
<rect x="314.84" y="452.98" width="7.69" height="7.99" fill="#fbdad0"/>
<rect x="322.48" y="452.98" width="7.69" height="7.99" fill="#fc977c"/>
<rect x="330.12" y="452.98" width="7.69" height="7.99" fill="#e8ddfa"/>
<rect x="337.76" y="452.98" width="7.69" height="7.99" fill="#b49cfb"/>
<rect x="345.40" y="452.98" width="7.69" height="7.99" fill="#c6b2fb"/>
<rect x="353.04" y="452.98" width="7.69" height="7.99" fill="#a287fc"/>
<rect x="360.68" y="452.98" width="7.69" height="7.99" fill="#d7c7fb"/>
<rect x="368.32" y="452.98" width="7.69" height="7.99" fill="#b49cfb"/>
<rect x="375.96" y="452.98" width="7.69" height="7.99" fill="#a287fc"/>
<rect x="383.60" y="452.98" width="7.69" height="7.99" fill="#c6b2fb"/>
<rect x="391.24" y="452.98" width="7.69" height="7.99" fill="#fbdad0"/>
<rect x="398.88" y="452.98" width="7.69" height="7.99" fill="#d7c7fb"/>
<rect x="406.52" y="452.98" width="7.69" height="7.99" fill="#d7c7fb"/>
<rect x="414.16" y="452.98" width="7.69" height="7.99" fill="#d7c7fb"/>
<rect x="421.80" y="452.98" width="7.69" height="7.99" fill="#c6b2fb"/>
<rect x="429.44" y="452.98" width="7.69" height="7.99" fill="#c6b2fb"/>
<rect x="437.08" y="452.98" width="7.69" height="7.99" fill="#c6b2fb"/>
<rect x="444.72" y="452.98" width="7.69" height="7.99" fill="#c6b2fb"/>
<rect x="452.36" y="452.98" width="7.69" height="7.99" fill="#fbdad0"/>
<rect x="460.00" y="452.98" width="7.69" height="7.99" fill="#d7c7fb"/>
<rect x="467.64" y="452.98" width="7.69" height="7.99" fill="#d7c7fb"/>
<rect x="475.28" y="452.98" width="7.69" height="7.99" fill="#d7c7fb"/>
<rect x="307.20" y="460.92" width="7.69" height="7.99" fill="#faf4f2"/>
<rect x="314.84" y="460.92" width="7.69" height="7.99" fill="#e8ddfa"/>
<rect x="322.48" y="460.92" width="7.69" height="7.99" fill="#faf4f2"/>
<rect x="330.12" y="460.92" width="7.69" height="7.99" fill="#e8ddfa"/>
<rect x="337.76" y="460.92" width="7.69" height="7.99" fill="#e8ddfa"/>
<rect x="345.40" y="460.92" width="7.69" height="7.99" fill="#faf4f2"/>
<rect x="353.04" y="460.92" width="7.69" height="7.99" fill="#e8ddfa"/>
<rect x="360.68" y="460.92" width="7.69" height="7.99" fill="#e8ddfa"/>
<rect x="368.32" y="460.92" width="7.69" height="7.99" fill="#d7c7fb"/>
<rect x="375.96" y="460.92" width="7.69" height="7.99" fill="#c6b2fb"/>
<rect x="383.60" y="460.92" width="7.69" height="7.99" fill="#d7c7fb"/>
<rect x="391.24" y="460.92" width="7.69" height="7.99" fill="#d7c7fb"/>
<rect x="398.88" y="460.92" width="7.69" height="7.99" fill="#d7c7fb"/>
<rect x="406.52" y="460.92" width="7.69" height="7.99" fill="#c6b2fb"/>
<rect x="414.16" y="460.92" width="7.69" height="7.99" fill="#c6b2fb"/>
<rect x="421.80" y="460.92" width="7.69" height="7.99" fill="#c6b2fb"/>
<rect x="429.44" y="460.92" width="7.69" height="7.99" fill="#c6b2fb"/>
<rect x="437.08" y="460.92" width="7.69" height="7.99" fill="#c6b2fb"/>
<rect x="444.72" y="460.92" width="7.69" height="7.99" fill="#c6b2fb"/>
<rect x="452.36" y="460.92" width="7.69" height="7.99" fill="#a287fc"/>
<rect x="460.00" y="460.92" width="7.69" height="7.99" fill="#b49cfb"/>
<rect x="467.64" y="460.92" width="7.69" height="7.99" fill="#a287fc"/>
<rect x="475.28" y="460.92" width="7.69" height="7.99" fill="#a287fc"/>
<rect x="307.20" y="468.86" width="7.69" height="7.99" fill="#d7c7fb"/>
<rect x="314.84" y="468.86" width="7.69" height="7.99" fill="#d7c7fb"/>
<rect x="322.48" y="468.86" width="7.69" height="7.99" fill="#d7c7fb"/>
<rect x="330.12" y="468.86" width="7.69" height="7.99" fill="#e8ddfa"/>
<rect x="337.76" y="468.86" width="7.69" height="7.99" fill="#e8ddfa"/>
<rect x="345.40" y="468.86" width="7.69" height="7.99" fill="#d7c7fb"/>
<rect x="353.04" y="468.86" width="7.69" height="7.99" fill="#e8ddfa"/>
<rect x="360.68" y="468.86" width="7.69" height="7.99" fill="#c6b2fb"/>
<rect x="368.32" y="468.86" width="7.69" height="7.99" fill="#c6b2fb"/>
<rect x="375.96" y="468.86" width="7.69" height="7.99" fill="#d7c7fb"/>
<rect x="383.60" y="468.86" width="7.69" height="7.99" fill="#c6b2fb"/>
<rect x="391.24" y="468.86" width="7.69" height="7.99" fill="#c6b2fb"/>
<rect x="398.88" y="468.86" width="7.69" height="7.99" fill="#c6b2fb"/>
<rect x="406.52" y="468.86" width="7.69" height="7.99" fill="#b49cfb"/>
<rect x="414.16" y="468.86" width="7.69" height="7.99" fill="#b49cfb"/>
<rect x="421.80" y="468.86" width="7.69" height="7.99" fill="#a287fc"/>
<rect x="429.44" y="468.86" width="7.69" height="7.99" fill="#b49cfb"/>
<rect x="437.08" y="468.86" width="7.69" height="7.99" fill="#b49cfb"/>
<rect x="444.72" y="468.86" width="7.69" height="7.99" fill="#b49cfb"/>
<rect x="452.36" y="468.86" width="7.69" height="7.99" fill="#b49cfb"/>
<rect x="460.00" y="468.86" width="7.69" height="7.99" fill="#b49cfb"/>
<rect x="467.64" y="468.86" width="7.69" height="7.99" fill="#b49cfb"/>
<rect x="475.28" y="468.86" width="7.69" height="7.99" fill="#b49cfb"/>
<rect x="307.20" y="476.80" width="7.69" height="7.99" fill="#d7c7fb"/>
<rect x="314.84" y="476.80" width="7.69" height="7.99" fill="#e8ddfa"/>
<rect x="322.48" y="476.80" width="7.69" height="7.99" fill="#e8ddfa"/>
<rect x="330.12" y="476.80" width="7.69" height="7.99" fill="#c6b2fb"/>
<rect x="337.76" y="476.80" width="7.69" height="7.99" fill="#c6b2fb"/>
<rect x="345.40" y="476.80" width="7.69" height="7.99" fill="#b49cfb"/>
<rect x="353.04" y="476.80" width="7.69" height="7.99" fill="#b49cfb"/>
<rect x="360.68" y="476.80" width="7.69" height="7.99" fill="#c6b2fb"/>
<rect x="368.32" y="476.80" width="7.69" height="7.99" fill="#b49cfb"/>
<rect x="375.96" y="476.80" width="7.69" height="7.99" fill="#c6b2fb"/>
<rect x="383.60" y="476.80" width="7.69" height="7.99" fill="#c6b2fb"/>
<rect x="391.24" y="476.80" width="7.69" height="7.99" fill="#b49cfb"/>
<rect x="398.88" y="476.80" width="7.69" height="7.99" fill="#b49cfb"/>
<rect x="406.52" y="476.80" width="7.69" height="7.99" fill="#b49cfb"/>
<rect x="414.16" y="476.80" width="7.69" height="7.99" fill="#b49cfb"/>
<rect x="421.80" y="476.80" width="7.69" height="7.99" fill="#b49cfb"/>
<rect x="429.44" y="476.80" width="7.69" height="7.99" fill="#b49cfb"/>
<rect x="437.08" y="476.80" width="7.69" height="7.99" fill="#c6b2fb"/>
<rect x="444.72" y="476.80" width="7.69" height="7.99" fill="#b49cfb"/>
<rect x="452.36" y="476.80" width="7.69" height="7.99" fill="#b49cfb"/>
<rect x="460.00" y="476.80" width="7.69" height="7.99" fill="#b49cfb"/>
<rect x="467.64" y="476.80" width="7.69" height="7.99" fill="#b49cfb"/>
<rect x="475.28" y="476.80" width="7.69" height="7.99" fill="#c6b2fb"/>
<rect x="307.20" y="484.74" width="7.69" height="7.99" fill="#faf4f2"/>
<rect x="314.84" y="484.74" width="7.69" height="7.99" fill="#d7c7fb"/>
<rect x="322.48" y="484.74" width="7.69" height="7.99" fill="#d7c7fb"/>
<rect x="330.12" y="484.74" width="7.69" height="7.99" fill="#c6b2fb"/>
<rect x="337.76" y="484.74" width="7.69" height="7.99" fill="#c6b2fb"/>
<rect x="345.40" y="484.74" width="7.69" height="7.99" fill="#d7c7fb"/>
<rect x="353.04" y="484.74" width="7.69" height="7.99" fill="#d7c7fb"/>
<rect x="360.68" y="484.74" width="7.69" height="7.99" fill="#d7c7fb"/>
<rect x="368.32" y="484.74" width="7.69" height="7.99" fill="#c6b2fb"/>
<rect x="375.96" y="484.74" width="7.69" height="7.99" fill="#fbdad0"/>
<rect x="383.60" y="484.74" width="7.69" height="7.99" fill="#e8ddfa"/>
<rect x="391.24" y="484.74" width="7.69" height="7.99" fill="#b49cfb"/>
<rect x="398.88" y="484.74" width="7.69" height="7.99" fill="#a287fc"/>
<rect x="406.52" y="484.74" width="7.69" height="7.99" fill="#c6b2fb"/>
<rect x="414.16" y="484.74" width="7.69" height="7.99" fill="#c6b2fb"/>
<rect x="421.80" y="484.74" width="7.69" height="7.99" fill="#a287fc"/>
<rect x="429.44" y="484.74" width="7.69" height="7.99" fill="#9072fc"/>
<rect x="437.08" y="484.74" width="7.69" height="7.99" fill="#a287fc"/>
<rect x="444.72" y="484.74" width="7.69" height="7.99" fill="#a287fc"/>
<rect x="452.36" y="484.74" width="7.69" height="7.99" fill="#a287fc"/>
<rect x="460.00" y="484.74" width="7.69" height="7.99" fill="#9072fc"/>
<rect x="467.64" y="484.74" width="7.69" height="7.99" fill="#7d5efc"/>
<rect x="475.28" y="484.74" width="7.69" height="7.99" fill="#9072fc"/>
<rect x="307.20" y="492.68" width="7.69" height="7.99" fill="#c6b2fb"/>
<rect x="314.84" y="492.68" width="7.69" height="7.99" fill="#b49cfb"/>
<rect x="322.48" y="492.68" width="7.69" height="7.99" fill="#c6b2fb"/>
<rect x="330.12" y="492.68" width="7.69" height="7.99" fill="#c6b2fb"/>
<rect x="337.76" y="492.68" width="7.69" height="7.99" fill="#c6b2fb"/>
<rect x="345.40" y="492.68" width="7.69" height="7.99" fill="#c6b2fb"/>
<rect x="353.04" y="492.68" width="7.69" height="7.99" fill="#d7c7fb"/>
<rect x="360.68" y="492.68" width="7.69" height="7.99" fill="#b49cfb"/>
<rect x="368.32" y="492.68" width="7.69" height="7.99" fill="#b49cfb"/>
<rect x="375.96" y="492.68" width="7.69" height="7.99" fill="#d7c7fb"/>
<rect x="383.60" y="492.68" width="7.69" height="7.99" fill="#d7c7fb"/>
<rect x="391.24" y="492.68" width="7.69" height="7.99" fill="#b49cfb"/>
<rect x="398.88" y="492.68" width="7.69" height="7.99" fill="#c6b2fb"/>
<rect x="406.52" y="492.68" width="7.69" height="7.99" fill="#a287fc"/>
<rect x="414.16" y="492.68" width="7.69" height="7.99" fill="#b49cfb"/>
<rect x="421.80" y="492.68" width="7.69" height="7.99" fill="#a287fc"/>
<rect x="429.44" y="492.68" width="7.69" height="7.99" fill="#a287fc"/>
<rect x="437.08" y="492.68" width="7.69" height="7.99" fill="#9072fc"/>
<rect x="444.72" y="492.68" width="7.69" height="7.99" fill="#a287fc"/>
<rect x="452.36" y="492.68" width="7.69" height="7.99" fill="#a287fc"/>
<rect x="460.00" y="492.68" width="7.69" height="7.99" fill="#a287fc"/>
<rect x="467.64" y="492.68" width="7.69" height="7.99" fill="#a287fc"/>
<rect x="475.28" y="492.68" width="7.69" height="7.99" fill="#a287fc"/>
<rect x="307.20" y="500.62" width="7.69" height="7.99" fill="#b49cfb"/>
<rect x="314.84" y="500.62" width="7.69" height="7.99" fill="#b49cfb"/>
<rect x="322.48" y="500.62" width="7.69" height="7.99" fill="#5739fd"/>
<rect x="330.12" y="500.62" width="7.69" height="7.99" fill="#d7c7fb"/>
<rect x="337.76" y="500.62" width="7.69" height="7.99" fill="#b49cfb"/>
<rect x="345.40" y="500.62" width="7.69" height="7.99" fill="#c6b2fb"/>
<rect x="353.04" y="500.62" width="7.69" height="7.99" fill="#d7c7fb"/>
<rect x="360.68" y="500.62" width="7.69" height="7.99" fill="#d7c7fb"/>
<rect x="368.32" y="500.62" width="7.69" height="7.99" fill="#d7c7fb"/>
<rect x="375.96" y="500.62" width="7.69" height="7.99" fill="#b49cfb"/>
<rect x="383.60" y="500.62" width="7.69" height="7.99" fill="#c6b2fb"/>
<rect x="391.24" y="500.62" width="7.69" height="7.99" fill="#faf4f2"/>
<rect x="398.88" y="500.62" width="7.69" height="7.99" fill="#e8ddfa"/>
<rect x="406.52" y="500.62" width="7.69" height="7.99" fill="#faf4f2"/>
<rect x="414.16" y="500.62" width="7.69" height="7.99" fill="#faf4f2"/>
<rect x="421.80" y="500.62" width="7.69" height="7.99" fill="#faf4f2"/>
<rect x="429.44" y="500.62" width="7.69" height="7.99" fill="#faf4f2"/>
<rect x="437.08" y="500.62" width="7.69" height="7.99" fill="#faf4f2"/>
<rect x="444.72" y="500.62" width="7.69" height="7.99" fill="#faf4f2"/>
<rect x="452.36" y="500.62" width="7.69" height="7.99" fill="#faf4f2"/>
<rect x="460.00" y="500.62" width="7.69" height="7.99" fill="#faf4f2"/>
<rect x="467.64" y="500.62" width="7.69" height="7.99" fill="#faf4f2"/>
<rect x="475.28" y="500.62" width="7.69" height="7.99" fill="#fca78e"/>
<rect x="307.20" y="508.56" width="7.69" height="7.99" fill="#b49cfb"/>
<rect x="314.84" y="508.56" width="7.69" height="7.99" fill="#a287fc"/>
<rect x="322.48" y="508.56" width="7.69" height="7.99" fill="#a287fc"/>
<rect x="330.12" y="508.56" width="7.69" height="7.99" fill="#a287fc"/>
<rect x="337.76" y="508.56" width="7.69" height="7.99" fill="#b49cfb"/>
<rect x="345.40" y="508.56" width="7.69" height="7.99" fill="#b49cfb"/>
<rect x="353.04" y="508.56" width="7.69" height="7.99" fill="#a287fc"/>
<rect x="360.68" y="508.56" width="7.69" height="7.99" fill="#b49cfb"/>
<rect x="368.32" y="508.56" width="7.69" height="7.99" fill="#b49cfb"/>
<rect x="375.96" y="508.56" width="7.69" height="7.99" fill="#a287fc"/>
<rect x="383.60" y="508.56" width="7.69" height="7.99" fill="#b49cfb"/>
<rect x="391.24" y="508.56" width="7.69" height="7.99" fill="#b49cfb"/>
<rect x="398.88" y="508.56" width="7.69" height="7.99" fill="#b49cfb"/>
<rect x="406.52" y="508.56" width="7.69" height="7.99" fill="#b49cfb"/>
<rect x="414.16" y="508.56" width="7.69" height="7.99" fill="#a287fc"/>
<rect x="421.80" y="508.56" width="7.69" height="7.99" fill="#b49cfb"/>
<rect x="429.44" y="508.56" width="7.69" height="7.99" fill="#a287fc"/>
<rect x="437.08" y="508.56" width="7.69" height="7.99" fill="#b49cfb"/>
<rect x="444.72" y="508.56" width="7.69" height="7.99" fill="#b49cfb"/>
<rect x="452.36" y="508.56" width="7.69" height="7.99" fill="#b49cfb"/>
<rect x="460.00" y="508.56" width="7.69" height="7.99" fill="#b49cfb"/>
<rect x="467.64" y="508.56" width="7.69" height="7.99" fill="#c6b2fb"/>
<rect x="475.28" y="508.56" width="7.69" height="7.99" fill="#c6b2fb"/>
<rect x="307.20" y="516.50" width="7.69" height="7.99" fill="#d7c7fb"/>
<rect x="314.84" y="516.50" width="7.69" height="7.99" fill="#b49cfb"/>
<rect x="322.48" y="516.50" width="7.69" height="7.99" fill="#b49cfb"/>
<rect x="330.12" y="516.50" width="7.69" height="7.99" fill="#fbb6a2"/>
<rect x="337.76" y="516.50" width="7.69" height="7.99" fill="#fbc7b7"/>
<rect x="345.40" y="516.50" width="7.69" height="7.99" fill="#fbc7b7"/>
<rect x="353.04" y="516.50" width="7.69" height="7.99" fill="#fbb6a2"/>
<rect x="360.68" y="516.50" width="7.69" height="7.99" fill="#fbc7b7"/>
<rect x="368.32" y="516.50" width="7.69" height="7.99" fill="#fbc7b7"/>
<rect x="375.96" y="516.50" width="7.69" height="7.99" fill="#7d5efc"/>
<rect x="383.60" y="516.50" width="7.69" height="7.99" fill="#9072fc"/>
<rect x="391.24" y="516.50" width="7.69" height="7.99" fill="#b49cfb"/>
<rect x="398.88" y="516.50" width="7.69" height="7.99" fill="#9072fc"/>
<rect x="406.52" y="516.50" width="7.69" height="7.99" fill="#9072fc"/>
<rect x="414.16" y="516.50" width="7.69" height="7.99" fill="#a287fc"/>
<rect x="421.80" y="516.50" width="7.69" height="7.99" fill="#9072fc"/>
<rect x="429.44" y="516.50" width="7.69" height="7.99" fill="#1f0efe"/>
<rect x="437.08" y="516.50" width="7.69" height="7.99" fill="#9072fc"/>
<rect x="444.72" y="516.50" width="7.69" height="7.99" fill="#6a4bfd"/>
<rect x="452.36" y="516.50" width="7.69" height="7.99" fill="#b49cfb"/>
<rect x="460.00" y="516.50" width="7.69" height="7.99" fill="#9072fc"/>
<rect x="467.64" y="516.50" width="7.69" height="7.99" fill="#c6b2fb"/>
<rect x="475.28" y="516.50" width="7.69" height="7.99" fill="#c6b2fb"/>
<rect x="307.20" y="524.44" width="7.69" height="7.99" fill="#e8ddfa"/>
<rect x="314.84" y="524.44" width="7.69" height="7.99" fill="#fbc7b7"/>
<rect x="322.48" y="524.44" width="7.69" height="7.99" fill="#fbc7b7"/>
<rect x="330.12" y="524.44" width="7.69" height="7.99" fill="#5739fd"/>
<rect x="337.76" y="524.44" width="7.69" height="7.99" fill="#6a4bfd"/>
<rect x="345.40" y="524.44" width="7.69" height="7.99" fill="#6a4bfd"/>
<rect x="353.04" y="524.44" width="7.69" height="7.99" fill="#0000ff"/>
<rect x="360.68" y="524.44" width="7.69" height="7.99" fill="#6a4bfd"/>
<rect x="368.32" y="524.44" width="7.69" height="7.99" fill="#0000ff"/>
<rect x="375.96" y="524.44" width="7.69" height="7.99" fill="#6a4bfd"/>
<rect x="383.60" y="524.44" width="7.69" height="7.99" fill="#9072fc"/>
<rect x="391.24" y="524.44" width="7.69" height="7.99" fill="#a287fc"/>
<rect x="398.88" y="524.44" width="7.69" height="7.99" fill="#9072fc"/>
<rect x="406.52" y="524.44" width="7.69" height="7.99" fill="#9072fc"/>
<rect x="414.16" y="524.44" width="7.69" height="7.99" fill="#9072fc"/>
<rect x="421.80" y="524.44" width="7.69" height="7.99" fill="#a287fc"/>
<rect x="429.44" y="524.44" width="7.69" height="7.99" fill="#a287fc"/>
<rect x="437.08" y="524.44" width="7.69" height="7.99" fill="#7d5efc"/>
<rect x="444.72" y="524.44" width="7.69" height="7.99" fill="#b49cfb"/>
<rect x="452.36" y="524.44" width="7.69" height="7.99" fill="#a287fc"/>
<rect x="460.00" y="524.44" width="7.69" height="7.99" fill="#a287fc"/>
<rect x="467.64" y="524.44" width="7.69" height="7.99" fill="#a287fc"/>
<rect x="475.28" y="524.44" width="7.69" height="7.99" fill="#a287fc"/>
<rect x="307.20" y="532.38" width="7.69" height="7.99" fill="#e8ddfa"/>
<rect x="314.84" y="532.38" width="7.69" height="7.99" fill="#fbdad0"/>
<rect x="322.48" y="532.38" width="7.69" height="7.99" fill="#fbc7b7"/>
<rect x="330.12" y="532.38" width="7.69" height="7.99" fill="#6a4bfd"/>
<rect x="337.76" y="532.38" width="7.69" height="7.99" fill="#6a4bfd"/>
<rect x="345.40" y="532.38" width="7.69" height="7.99" fill="#5739fd"/>
<rect x="353.04" y="532.38" width="7.69" height="7.99" fill="#6a4bfd"/>
<rect x="360.68" y="532.38" width="7.69" height="7.99" fill="#6a4bfd"/>
<rect x="368.32" y="532.38" width="7.69" height="7.99" fill="#6a4bfd"/>
<rect x="375.96" y="532.38" width="7.69" height="7.99" fill="#7d5efc"/>
<rect x="383.60" y="532.38" width="7.69" height="7.99" fill="#a287fc"/>
<rect x="391.24" y="532.38" width="7.69" height="7.99" fill="#9072fc"/>
<rect x="398.88" y="532.38" width="7.69" height="7.99" fill="#a287fc"/>
<rect x="406.52" y="532.38" width="7.69" height="7.99" fill="#a287fc"/>
<rect x="414.16" y="532.38" width="7.69" height="7.99" fill="#9072fc"/>
<rect x="421.80" y="532.38" width="7.69" height="7.99" fill="#a287fc"/>
<rect x="429.44" y="532.38" width="7.69" height="7.99" fill="#a287fc"/>
<rect x="437.08" y="532.38" width="7.69" height="7.99" fill="#9072fc"/>
<rect x="444.72" y="532.38" width="7.69" height="7.99" fill="#7d5efc"/>
<rect x="452.36" y="532.38" width="7.69" height="7.99" fill="#6a4bfd"/>
<rect x="460.00" y="532.38" width="7.69" height="7.99" fill="#7d5efc"/>
<rect x="467.64" y="532.38" width="7.69" height="7.99" fill="#7d5efc"/>
<rect x="475.28" y="532.38" width="7.69" height="7.99" fill="#9072fc"/>
<rect x="307.20" y="540.32" width="7.69" height="7.99" fill="#6a4bfd"/>
<rect x="314.84" y="540.32" width="7.69" height="7.99" fill="#6a4bfd"/>
<rect x="322.48" y="540.32" width="7.69" height="7.99" fill="#c6b2fb"/>
<rect x="330.12" y="540.32" width="7.69" height="7.99" fill="#c6b2fb"/>
<rect x="337.76" y="540.32" width="7.69" height="7.99" fill="#c6b2fb"/>
<rect x="345.40" y="540.32" width="7.69" height="7.99" fill="#d7c7fb"/>
<rect x="353.04" y="540.32" width="7.69" height="7.99" fill="#d7c7fb"/>
<rect x="360.68" y="540.32" width="7.69" height="7.99" fill="#6a4bfd"/>
<rect x="368.32" y="540.32" width="7.69" height="7.99" fill="#a287fc"/>
<rect x="375.96" y="540.32" width="7.69" height="7.99" fill="#a287fc"/>
<rect x="383.60" y="540.32" width="7.69" height="7.99" fill="#a287fc"/>
<rect x="391.24" y="540.32" width="7.69" height="7.99" fill="#9072fc"/>
<rect x="398.88" y="540.32" width="7.69" height="7.99" fill="#6a4bfd"/>
<rect x="406.52" y="540.32" width="7.69" height="7.99" fill="#6a4bfd"/>
<rect x="414.16" y="540.32" width="7.69" height="7.99" fill="#9072fc"/>
<rect x="421.80" y="540.32" width="7.69" height="7.99" fill="#6a4bfd"/>
<rect x="429.44" y="540.32" width="7.69" height="7.99" fill="#7d5efc"/>
<rect x="437.08" y="540.32" width="7.69" height="7.99" fill="#6a4bfd"/>
<rect x="444.72" y="540.32" width="7.69" height="7.99" fill="#0d04ff"/>
<rect x="452.36" y="540.32" width="7.69" height="7.99" fill="#6a4bfd"/>
<rect x="460.00" y="540.32" width="7.69" height="7.99" fill="#6a4bfd"/>
<rect x="467.64" y="540.32" width="7.69" height="7.99" fill="#9072fc"/>
<rect x="475.28" y="540.32" width="7.69" height="7.99" fill="#a287fc"/>
<rect x="307.20" y="548.26" width="7.69" height="7.99" fill="#7d5efc"/>
<rect x="314.84" y="548.26" width="7.69" height="7.99" fill="#6a4bfd"/>
<rect x="322.48" y="548.26" width="7.69" height="7.99" fill="#9072fc"/>
<rect x="330.12" y="548.26" width="7.69" height="7.99" fill="#9072fc"/>
<rect x="337.76" y="548.26" width="7.69" height="7.99" fill="#9072fc"/>
<rect x="345.40" y="548.26" width="7.69" height="7.99" fill="#a287fc"/>
<rect x="353.04" y="548.26" width="7.69" height="7.99" fill="#a287fc"/>
<rect x="360.68" y="548.26" width="7.69" height="7.99" fill="#7d5efc"/>
<rect x="368.32" y="548.26" width="7.69" height="7.99" fill="#6a4bfd"/>
<rect x="375.96" y="548.26" width="7.69" height="7.99" fill="#7d5efc"/>
<rect x="383.60" y="548.26" width="7.69" height="7.99" fill="#9072fc"/>
<rect x="391.24" y="548.26" width="7.69" height="7.99" fill="#9072fc"/>
<rect x="398.88" y="548.26" width="7.69" height="7.99" fill="#7d5efc"/>
<rect x="406.52" y="548.26" width="7.69" height="7.99" fill="#6a4bfd"/>
<rect x="414.16" y="548.26" width="7.69" height="7.99" fill="#7d5efc"/>
<rect x="421.80" y="548.26" width="7.69" height="7.99" fill="#7d5efc"/>
<rect x="429.44" y="548.26" width="7.69" height="7.99" fill="#5739fd"/>
<rect x="437.08" y="548.26" width="7.69" height="7.99" fill="#7d5efc"/>
<rect x="444.72" y="548.26" width="7.69" height="7.99" fill="#6a4bfd"/>
<rect x="452.36" y="548.26" width="7.69" height="7.99" fill="#7d5efc"/>
<rect x="460.00" y="548.26" width="7.69" height="7.99" fill="#7d5efc"/>
<rect x="467.64" y="548.26" width="7.69" height="7.99" fill="#9072fc"/>
<rect x="475.28" y="548.26" width="7.69" height="7.99" fill="#5739fd"/>
<rect x="307.20" y="556.20" width="7.69" height="7.99" fill="#9072fc"/>
<rect x="314.84" y="556.20" width="7.69" height="7.99" fill="#7d5efc"/>
<rect x="322.48" y="556.20" width="7.69" height="7.99" fill="#b49cfb"/>
<rect x="330.12" y="556.20" width="7.69" height="7.99" fill="#a287fc"/>
<rect x="337.76" y="556.20" width="7.69" height="7.99" fill="#b49cfb"/>
<rect x="345.40" y="556.20" width="7.69" height="7.99" fill="#7d5efc"/>
<rect x="353.04" y="556.20" width="7.69" height="7.99" fill="#a287fc"/>
<rect x="360.68" y="556.20" width="7.69" height="7.99" fill="#9072fc"/>
<rect x="368.32" y="556.20" width="7.69" height="7.99" fill="#0000ff"/>
<rect x="375.96" y="556.20" width="7.69" height="7.99" fill="#7d5efc"/>
<rect x="383.60" y="556.20" width="7.69" height="7.99" fill="#7d5efc"/>
<rect x="391.24" y="556.20" width="7.69" height="7.99" fill="#9072fc"/>
<rect x="398.88" y="556.20" width="7.69" height="7.99" fill="#9072fc"/>
<rect x="406.52" y="556.20" width="7.69" height="7.99" fill="#a287fc"/>
<rect x="414.16" y="556.20" width="7.69" height="7.99" fill="#6a4bfd"/>
<rect x="421.80" y="556.20" width="7.69" height="7.99" fill="#6a4bfd"/>
<rect x="429.44" y="556.20" width="7.69" height="7.99" fill="#9072fc"/>
<rect x="437.08" y="556.20" width="7.69" height="7.99" fill="#9072fc"/>
<rect x="444.72" y="556.20" width="7.69" height="7.99" fill="#9072fc"/>
<rect x="452.36" y="556.20" width="7.69" height="7.99" fill="#7d5efc"/>
<rect x="460.00" y="556.20" width="7.69" height="7.99" fill="#9072fc"/>
<rect x="467.64" y="556.20" width="7.69" height="7.99" fill="#9072fc"/>
<rect x="475.28" y="556.20" width="7.69" height="7.99" fill="#7d5efc"/>
<rect x="307.20" y="564.14" width="7.69" height="7.99" fill="#b49cfb"/>
<rect x="314.84" y="564.14" width="7.69" height="7.99" fill="#b49cfb"/>
<rect x="322.48" y="564.14" width="7.69" height="7.99" fill="#9072fc"/>
<rect x="330.12" y="564.14" width="7.69" height="7.99" fill="#9072fc"/>
<rect x="337.76" y="564.14" width="7.69" height="7.99" fill="#5739fd"/>
<rect x="345.40" y="564.14" width="7.69" height="7.99" fill="#9072fc"/>
<rect x="353.04" y="564.14" width="7.69" height="7.99" fill="#7d5efc"/>
<rect x="360.68" y="564.14" width="7.69" height="7.99" fill="#9072fc"/>
<rect x="368.32" y="564.14" width="7.69" height="7.99" fill="#9072fc"/>
<rect x="375.96" y="564.14" width="7.69" height="7.99" fill="#5739fd"/>
<rect x="383.60" y="564.14" width="7.69" height="7.99" fill="#9072fc"/>
<rect x="391.24" y="564.14" width="7.69" height="7.99" fill="#9072fc"/>
<rect x="398.88" y="564.14" width="7.69" height="7.99" fill="#9072fc"/>
<rect x="406.52" y="564.14" width="7.69" height="7.99" fill="#7d5efc"/>
<rect x="414.16" y="564.14" width="7.69" height="7.99" fill="#9072fc"/>
<rect x="421.80" y="564.14" width="7.69" height="7.99" fill="#9072fc"/>
<rect x="429.44" y="564.14" width="7.69" height="7.99" fill="#9072fc"/>
<rect x="437.08" y="564.14" width="7.69" height="7.99" fill="#6a4bfd"/>
<rect x="444.72" y="564.14" width="7.69" height="7.99" fill="#6a4bfd"/>
<rect x="452.36" y="564.14" width="7.69" height="7.99" fill="#9072fc"/>
<rect x="460.00" y="564.14" width="7.69" height="7.99" fill="#9072fc"/>
<rect x="467.64" y="564.14" width="7.69" height="7.99" fill="#9072fc"/>
<rect x="475.28" y="564.14" width="7.69" height="7.99" fill="#7d5efc"/>
<rect x="307.20" y="572.08" width="7.69" height="7.99" fill="#4429fe"/>
<rect x="314.84" y="572.08" width="7.69" height="7.99" fill="#4429fe"/>
<rect x="322.48" y="572.08" width="7.69" height="7.99" fill="#4429fe"/>
<rect x="330.12" y="572.08" width="7.69" height="7.99" fill="#5739fd"/>
<rect x="337.76" y="572.08" width="7.69" height="7.99" fill="#6a4bfd"/>
<rect x="345.40" y="572.08" width="7.69" height="7.99" fill="#6a4bfd"/>
<rect x="353.04" y="572.08" width="7.69" height="7.99" fill="#0000ff"/>
<rect x="360.68" y="572.08" width="7.69" height="7.99" fill="#9072fc"/>
<rect x="368.32" y="572.08" width="7.69" height="7.99" fill="#6a4bfd"/>
<rect x="375.96" y="572.08" width="7.69" height="7.99" fill="#0000ff"/>
<rect x="383.60" y="572.08" width="7.69" height="7.99" fill="#7d5efc"/>
<rect x="391.24" y="572.08" width="7.69" height="7.99" fill="#9072fc"/>
<rect x="398.88" y="572.08" width="7.69" height="7.99" fill="#a287fc"/>
<rect x="406.52" y="572.08" width="7.69" height="7.99" fill="#a287fc"/>
<rect x="414.16" y="572.08" width="7.69" height="7.99" fill="#b49cfb"/>
<rect x="421.80" y="572.08" width="7.69" height="7.99" fill="#b49cfb"/>
<rect x="429.44" y="572.08" width="7.69" height="7.99" fill="#9072fc"/>
<rect x="437.08" y="572.08" width="7.69" height="7.99" fill="#9072fc"/>
<rect x="444.72" y="572.08" width="7.69" height="7.99" fill="#9072fc"/>
<rect x="452.36" y="572.08" width="7.69" height="7.99" fill="#b49cfb"/>
<rect x="460.00" y="572.08" width="7.69" height="7.99" fill="#b49cfb"/>
<rect x="467.64" y="572.08" width="7.69" height="7.99" fill="#b49cfb"/>
<rect x="475.28" y="572.08" width="7.69" height="7.99" fill="#a287fc"/>
<rect x="307.20" y="580.02" width="7.69" height="7.99" fill="#321afe"/>
<rect x="314.84" y="580.02" width="7.69" height="7.99" fill="#0000ff"/>
<rect x="322.48" y="580.02" width="7.69" height="7.99" fill="#0000ff"/>
<rect x="330.12" y="580.02" width="7.69" height="7.99" fill="#0000ff"/>
<rect x="337.76" y="580.02" width="7.69" height="7.99" fill="#321afe"/>
<rect x="345.40" y="580.02" width="7.69" height="7.99" fill="#4429fe"/>
<rect x="353.04" y="580.02" width="7.69" height="7.99" fill="#5739fd"/>
<rect x="360.68" y="580.02" width="7.69" height="7.99" fill="#5739fd"/>
<rect x="368.32" y="580.02" width="7.69" height="7.99" fill="#0000ff"/>
<rect x="375.96" y="580.02" width="7.69" height="7.99" fill="#4429fe"/>
<rect x="383.60" y="580.02" width="7.69" height="7.99" fill="#0000ff"/>
<rect x="391.24" y="580.02" width="7.69" height="7.99" fill="#321afe"/>
<rect x="398.88" y="580.02" width="7.69" height="7.99" fill="#4429fe"/>
<rect x="406.52" y="580.02" width="7.69" height="7.99" fill="#321afe"/>
<rect x="414.16" y="580.02" width="7.69" height="7.99" fill="#4429fe"/>
<rect x="421.80" y="580.02" width="7.69" height="7.99" fill="#4429fe"/>
<rect x="429.44" y="580.02" width="7.69" height="7.99" fill="#5739fd"/>
<rect x="437.08" y="580.02" width="7.69" height="7.99" fill="#5739fd"/>
<rect x="444.72" y="580.02" width="7.69" height="7.99" fill="#4429fe"/>
<rect x="452.36" y="580.02" width="7.69" height="7.99" fill="#5739fd"/>
<rect x="460.00" y="580.02" width="7.69" height="7.99" fill="#4429fe"/>
<rect x="467.64" y="580.02" width="7.69" height="7.99" fill="#0000ff"/>
<rect x="475.28" y="580.02" width="7.69" height="7.99" fill="#0000ff"/>
</g>
<g stroke="#ffffff" stroke-opacity="0.12" stroke-width="0.4">
<line x1="314.84" y1="318.0" x2="314.84" y2="587.96"/>
<line x1="322.48" y1="318.0" x2="322.48" y2="587.96"/>
<line x1="330.12" y1="318.0" x2="330.12" y2="587.96"/>
<line x1="337.76" y1="318.0" x2="337.76" y2="587.96"/>
<line x1="345.40" y1="318.0" x2="345.40" y2="587.96"/>
<line x1="353.04" y1="318.0" x2="353.04" y2="587.96"/>
<line x1="360.68" y1="318.0" x2="360.68" y2="587.96"/>
<line x1="368.32" y1="318.0" x2="368.32" y2="587.96"/>
<line x1="375.96" y1="318.0" x2="375.96" y2="587.96"/>
<line x1="383.60" y1="318.0" x2="383.60" y2="587.96"/>
<line x1="391.24" y1="318.0" x2="391.24" y2="587.96"/>
<line x1="398.88" y1="318.0" x2="398.88" y2="587.96"/>
<line x1="406.52" y1="318.0" x2="406.52" y2="587.96"/>
<line x1="414.16" y1="318.0" x2="414.16" y2="587.96"/>
<line x1="421.80" y1="318.0" x2="421.80" y2="587.96"/>
<line x1="429.44" y1="318.0" x2="429.44" y2="587.96"/>
<line x1="437.08" y1="318.0" x2="437.08" y2="587.96"/>
<line x1="444.72" y1="318.0" x2="444.72" y2="587.96"/>
<line x1="452.36" y1="318.0" x2="452.36" y2="587.96"/>
<line x1="460.00" y1="318.0" x2="460.00" y2="587.96"/>
<line x1="467.64" y1="318.0" x2="467.64" y2="587.96"/>
<line x1="475.28" y1="318.0" x2="475.28" y2="587.96"/>
<line x1="307.2" y1="325.94" x2="482.92" y2="325.94"/>
<line x1="307.2" y1="333.88" x2="482.92" y2="333.88"/>
<line x1="307.2" y1="341.82" x2="482.92" y2="341.82"/>
<line x1="307.2" y1="349.76" x2="482.92" y2="349.76"/>
<line x1="307.2" y1="357.70" x2="482.92" y2="357.70"/>
<line x1="307.2" y1="365.64" x2="482.92" y2="365.64"/>
<line x1="307.2" y1="373.58" x2="482.92" y2="373.58"/>
<line x1="307.2" y1="381.52" x2="482.92" y2="381.52"/>
<line x1="307.2" y1="389.46" x2="482.92" y2="389.46"/>
<line x1="307.2" y1="397.40" x2="482.92" y2="397.40"/>
<line x1="307.2" y1="405.34" x2="482.92" y2="405.34"/>
<line x1="307.2" y1="413.28" x2="482.92" y2="413.28"/>
<line x1="307.2" y1="421.22" x2="482.92" y2="421.22"/>
<line x1="307.2" y1="429.16" x2="482.92" y2="429.16"/>
<line x1="307.2" y1="437.10" x2="482.92" y2="437.10"/>
<line x1="307.2" y1="445.04" x2="482.92" y2="445.04"/>
<line x1="307.2" y1="452.98" x2="482.92" y2="452.98"/>
<line x1="307.2" y1="460.92" x2="482.92" y2="460.92"/>
<line x1="307.2" y1="468.86" x2="482.92" y2="468.86"/>
<line x1="307.2" y1="476.80" x2="482.92" y2="476.80"/>
<line x1="307.2" y1="484.74" x2="482.92" y2="484.74"/>
<line x1="307.2" y1="492.68" x2="482.92" y2="492.68"/>
<line x1="307.2" y1="500.62" x2="482.92" y2="500.62"/>
<line x1="307.2" y1="508.56" x2="482.92" y2="508.56"/>
<line x1="307.2" y1="516.50" x2="482.92" y2="516.50"/>
<line x1="307.2" y1="524.44" x2="482.92" y2="524.44"/>
<line x1="307.2" y1="532.38" x2="482.92" y2="532.38"/>
<line x1="307.2" y1="540.32" x2="482.92" y2="540.32"/>
<line x1="307.2" y1="548.26" x2="482.92" y2="548.26"/>
<line x1="307.2" y1="556.20" x2="482.92" y2="556.20"/>
<line x1="307.2" y1="564.14" x2="482.92" y2="564.14"/>
<line x1="307.2" y1="572.08" x2="482.92" y2="572.08"/>
<line x1="307.2" y1="580.02" x2="482.92" y2="580.02"/>
</g>
<text transform="translate(485.00,324.27) scale(0.83,1)" font-size="6.7" font-weight="normal" text-anchor="start" fill="#000" stroke="#000" stroke-width="0.1">FN1</text>
<text transform="translate(485.00,332.21) scale(0.83,1)" font-size="6.7" font-weight="normal" text-anchor="start" fill="#000" stroke="#000" stroke-width="0.1">SPP1</text>
<text transform="translate(485.00,340.15) scale(0.83,1)" font-size="6.7" font-weight="normal" text-anchor="start" fill="#000" stroke="#000" stroke-width="0.1">LGALS1</text>
<text transform="translate(485.00,348.09) scale(0.83,1)" font-size="6.7" font-weight="normal" text-anchor="start" fill="#000" stroke="#000" stroke-width="0.1">HMOX1</text>
<text transform="translate(485.00,356.03) scale(0.83,1)" font-size="6.7" font-weight="normal" text-anchor="start" fill="#000" stroke="#000" stroke-width="0.1">CXCL12</text>
<text transform="translate(485.00,363.97) scale(0.83,1)" font-size="6.7" font-weight="normal" text-anchor="start" fill="#000" stroke="#000" stroke-width="0.1">ARG1</text>
<text transform="translate(485.00,371.91) scale(0.83,1)" font-size="6.7" font-weight="normal" text-anchor="start" fill="#000" stroke="#000" stroke-width="0.1">TIMP1</text>
<text transform="translate(485.00,379.85) scale(0.83,1)" font-size="6.7" font-weight="normal" text-anchor="start" fill="#000" stroke="#000" stroke-width="0.1">ANTXR2</text>
<text transform="translate(485.00,387.79) scale(0.83,1)" font-size="6.7" font-weight="normal" text-anchor="start" fill="#000" stroke="#000" stroke-width="0.1">ODC1</text>
<text transform="translate(485.00,395.73) scale(0.83,1)" font-size="6.7" font-weight="normal" text-anchor="start" fill="#000" stroke="#000" stroke-width="0.1">MMP9</text>
<text transform="translate(485.00,403.67) scale(0.83,1)" font-size="6.7" font-weight="normal" text-anchor="start" fill="#000" stroke="#000" stroke-width="0.1">SEMA3A</text>
<text transform="translate(485.00,411.61) scale(0.83,1)" font-size="6.7" font-weight="normal" text-anchor="start" fill="#000" stroke="#000" stroke-width="0.1">F2R</text>
<text transform="translate(485.00,419.55) scale(0.83,1)" font-size="6.7" font-weight="normal" text-anchor="start" fill="#000" stroke="#000" stroke-width="0.1">DDAH1</text>
<text transform="translate(485.00,427.49) scale(0.83,1)" font-size="6.7" font-weight="normal" text-anchor="start" fill="#000" stroke="#000" stroke-width="0.1">ITGB3</text>
<text transform="translate(485.00,435.43) scale(0.83,1)" font-size="6.7" font-weight="normal" text-anchor="start" fill="#000" stroke="#000" stroke-width="0.1">CDH2</text>
<text transform="translate(485.00,443.37) scale(0.83,1)" font-size="6.7" font-weight="normal" text-anchor="start" fill="#000" stroke="#000" stroke-width="0.1">TWIST2</text>
<text transform="translate(485.00,451.31) scale(0.83,1)" font-size="6.7" font-weight="normal" text-anchor="start" fill="#000" stroke="#000" stroke-width="0.1">PLXNA4</text>
<text transform="translate(485.00,459.25) scale(0.83,1)" font-size="6.7" font-weight="normal" text-anchor="start" fill="#000" stroke="#000" stroke-width="0.1">FGF1</text>
<text transform="translate(485.00,467.19) scale(0.83,1)" font-size="6.7" font-weight="normal" text-anchor="start" fill="#000" stroke="#000" stroke-width="0.1">TRAF4</text>
<text transform="translate(485.00,475.13) scale(0.83,1)" font-size="6.7" font-weight="normal" text-anchor="start" fill="#000" stroke="#000" stroke-width="0.1">ADM</text>
<text transform="translate(485.00,483.07) scale(0.83,1)" font-size="6.7" font-weight="normal" text-anchor="start" fill="#000" stroke="#000" stroke-width="0.1">SMAD7</text>
<text transform="translate(485.00,491.01) scale(0.83,1)" font-size="6.7" font-weight="normal" text-anchor="start" fill="#000" stroke="#000" stroke-width="0.1">HTR2A</text>
<text transform="translate(485.00,498.95) scale(0.83,1)" font-size="6.7" font-weight="normal" text-anchor="start" fill="#000" stroke="#000" stroke-width="0.1">VASH2</text>
<text transform="translate(485.00,506.89) scale(0.83,1)" font-size="6.7" font-weight="normal" text-anchor="start" fill="#000" stroke="#000" stroke-width="0.1">THRB</text>
<text transform="translate(485.00,514.83) scale(0.83,1)" font-size="6.7" font-weight="normal" text-anchor="start" fill="#000" stroke="#000" stroke-width="0.1">PAQR3</text>
<text transform="translate(485.00,522.77) scale(0.83,1)" font-size="6.7" font-weight="normal" text-anchor="start" fill="#000" stroke="#000" stroke-width="0.1">AGTR2</text>
<text transform="translate(485.00,530.71) scale(0.83,1)" font-size="6.7" font-weight="normal" text-anchor="start" fill="#000" stroke="#000" stroke-width="0.1">PTHLH</text>
<text transform="translate(485.00,538.65) scale(0.83,1)" font-size="6.7" font-weight="normal" text-anchor="start" fill="#000" stroke="#000" stroke-width="0.1">PGF</text>
<text transform="translate(485.00,546.59) scale(0.83,1)" font-size="6.7" font-weight="normal" text-anchor="start" fill="#000" stroke="#000" stroke-width="0.1">DLK1</text>
<text transform="translate(485.00,554.53) scale(0.83,1)" font-size="6.7" font-weight="normal" text-anchor="start" fill="#000" stroke="#000" stroke-width="0.1">MDK</text>
<text transform="translate(485.00,562.47) scale(0.83,1)" font-size="6.7" font-weight="normal" text-anchor="start" fill="#000" stroke="#000" stroke-width="0.1">TERT</text>
<text transform="translate(485.00,570.41) scale(0.83,1)" font-size="6.7" font-weight="normal" text-anchor="start" fill="#000" stroke="#000" stroke-width="0.1">HTR2B</text>
<text transform="translate(485.00,578.35) scale(0.83,1)" font-size="6.7" font-weight="normal" text-anchor="start" fill="#000" stroke="#000" stroke-width="0.1">COMBA2</text>
<text transform="translate(485.00,586.29) scale(0.83,1)" font-size="6.7" font-weight="normal" text-anchor="start" fill="#000" stroke="#000" stroke-width="0.1">FASL</text>
<rect x="307.20" y="307.30" width="30.56" height="8.40" fill="#7030a0" shape-rendering="crispEdges"/>
<rect x="337.76" y="307.30" width="30.56" height="8.40" fill="#70ad47" shape-rendering="crispEdges"/>
<rect x="368.32" y="307.30" width="7.64" height="8.40" fill="#7030a0" shape-rendering="crispEdges"/>
<rect x="375.96" y="307.30" width="15.28" height="8.40" fill="#c00000" shape-rendering="crispEdges"/>
<rect x="391.24" y="307.30" width="7.64" height="8.40" fill="#7030a0" shape-rendering="crispEdges"/>
<rect x="398.88" y="307.30" width="22.92" height="8.40" fill="#c00000" shape-rendering="crispEdges"/>
<rect x="421.80" y="307.30" width="45.84" height="8.40" fill="#a6a6a6" shape-rendering="crispEdges"/>
<rect x="467.64" y="307.30" width="15.28" height="8.40" fill="#70ad47" shape-rendering="crispEdges"/>
<rect x="289.30" y="318.00" width="17.90" height="269.96" fill="#6f6f6f"/>
<rect x="295.97" y="501.42" width="4.57" height="6.34" fill="#ffffff"/>
<rect x="290.00" y="350.56" width="4.57" height="6.34" fill="#ffffff"/>
<rect x="290.00" y="445.84" width="4.57" height="6.34" fill="#ffffff"/>
<rect x="290.00" y="541.12" width="4.57" height="6.34" fill="#ffffff"/>
<rect x="290.00" y="374.38" width="4.57" height="6.34" fill="#ffffff"/>
<rect x="295.97" y="437.90" width="4.57" height="6.34" fill="#ffffff"/>
<rect x="290.00" y="469.66" width="4.57" height="6.34" fill="#ffffff"/>
<rect x="290.00" y="564.94" width="4.57" height="6.34" fill="#ffffff"/>
<rect x="290.00" y="398.20" width="4.57" height="6.34" fill="#ffffff"/>
<rect x="290.00" y="572.88" width="4.57" height="6.34" fill="#ffffff"/>
<rect x="290.00" y="493.48" width="4.57" height="6.34" fill="#ffffff"/>
<rect x="301.93" y="366.44" width="4.57" height="6.34" fill="#ffffff"/>
<rect x="290.00" y="390.26" width="4.57" height="6.34" fill="#ffffff"/>
<rect x="295.97" y="461.72" width="4.57" height="6.34" fill="#ffffff"/>
<rect x="290.00" y="485.54" width="4.57" height="6.34" fill="#ffffff"/>
<rect x="290.00" y="406.14" width="4.57" height="6.34" fill="#ffffff"/>
<rect x="290.00" y="580.82" width="4.57" height="6.34" fill="#ffffff"/>
<rect x="290.00" y="414.08" width="4.57" height="6.34" fill="#ffffff"/>
<rect x="290.00" y="334.68" width="4.57" height="6.34" fill="#ffffff"/>
<rect x="290.00" y="342.62" width="4.57" height="6.34" fill="#ffffff"/>
<rect x="290.00" y="429.96" width="4.57" height="6.34" fill="#ffffff"/>
<rect x="290.00" y="358.50" width="4.57" height="6.34" fill="#ffffff"/>
<rect x="290.00" y="366.44" width="4.57" height="6.34" fill="#ffffff"/>
<g stroke="#c4c4c4" stroke-width="0.6">
<line x1="289.30" y1="318.0" x2="289.30" y2="587.96"/>
<line x1="295.27" y1="318.0" x2="295.27" y2="587.96"/>
<line x1="301.23" y1="318.0" x2="301.23" y2="587.96"/>
<line x1="307.20" y1="318.0" x2="307.20" y2="587.96"/>
<line x1="289.3" y1="318.00" x2="307.2" y2="318.00"/>
<line x1="289.3" y1="325.94" x2="307.2" y2="325.94"/>
<line x1="289.3" y1="333.88" x2="307.2" y2="333.88"/>
<line x1="289.3" y1="341.82" x2="307.2" y2="341.82"/>
<line x1="289.3" y1="349.76" x2="307.2" y2="349.76"/>
<line x1="289.3" y1="357.70" x2="307.2" y2="357.70"/>
<line x1="289.3" y1="365.64" x2="307.2" y2="365.64"/>
<line x1="289.3" y1="373.58" x2="307.2" y2="373.58"/>
<line x1="289.3" y1="381.52" x2="307.2" y2="381.52"/>
<line x1="289.3" y1="389.46" x2="307.2" y2="389.46"/>
<line x1="289.3" y1="397.40" x2="307.2" y2="397.40"/>
<line x1="289.3" y1="405.34" x2="307.2" y2="405.34"/>
<line x1="289.3" y1="413.28" x2="307.2" y2="413.28"/>
<line x1="289.3" y1="421.22" x2="307.2" y2="421.22"/>
<line x1="289.3" y1="429.16" x2="307.2" y2="429.16"/>
<line x1="289.3" y1="437.10" x2="307.2" y2="437.10"/>
<line x1="289.3" y1="445.04" x2="307.2" y2="445.04"/>
<line x1="289.3" y1="452.98" x2="307.2" y2="452.98"/>
<line x1="289.3" y1="460.92" x2="307.2" y2="460.92"/>
<line x1="289.3" y1="468.86" x2="307.2" y2="468.86"/>
<line x1="289.3" y1="476.80" x2="307.2" y2="476.80"/>
<line x1="289.3" y1="484.74" x2="307.2" y2="484.74"/>
<line x1="289.3" y1="492.68" x2="307.2" y2="492.68"/>
<line x1="289.3" y1="500.62" x2="307.2" y2="500.62"/>
<line x1="289.3" y1="508.56" x2="307.2" y2="508.56"/>
<line x1="289.3" y1="516.50" x2="307.2" y2="516.50"/>
<line x1="289.3" y1="524.44" x2="307.2" y2="524.44"/>
<line x1="289.3" y1="532.38" x2="307.2" y2="532.38"/>
<line x1="289.3" y1="540.32" x2="307.2" y2="540.32"/>
<line x1="289.3" y1="548.26" x2="307.2" y2="548.26"/>
<line x1="289.3" y1="556.20" x2="307.2" y2="556.20"/>
<line x1="289.3" y1="564.14" x2="307.2" y2="564.14"/>
<line x1="289.3" y1="572.08" x2="307.2" y2="572.08"/>
<line x1="289.3" y1="580.02" x2="307.2" y2="580.02"/>
<line x1="289.3" y1="587.96" x2="307.2" y2="587.96"/>
</g>
<text x="294.28" y="315.80" font-size="6.1" font-weight="normal" text-anchor="start" fill="#000" transform="rotate(-90 294.28 315.80)" stroke="#000" stroke-width="0.1">Growth of skin</text>
<text x="300.25" y="315.80" font-size="6.1" font-weight="normal" text-anchor="start" fill="#000" transform="rotate(-90 300.25 315.80)" stroke="#000" stroke-width="0.1">Angiogenesis</text>
<text x="306.22" y="315.80" font-size="6.1" font-weight="normal" text-anchor="start" fill="#000" transform="rotate(-90 306.22 315.80)" stroke="#000" stroke-width="0.1">Growth of EC</text>
<path d="M311.02 306.60 V302.30 H318.66 V306.60 M326.30 306.60 V300.60 H333.94 V306.60 M314.84 302.30 V298.60 H330.12 V300.60 M349.22 306.60 V303.30 H356.86 V306.60 M341.58 306.60 V301.80 H353.04 V303.30 M364.50 306.60 V303.00 H372.14 V306.60 M347.31 301.80 V300.40 H368.32 V303.00 M379.78 306.60 V303.60 H387.42 V306.60 M395.06 306.60 V302.60 H402.70 V306.60 M410.34 306.60 V303.20 H417.98 V306.60 M398.88 302.60 V301.20 H414.16 V303.20 M383.60 303.60 V300.00 H406.52 V301.20 M357.81 300.40 V297.60 H395.06 V300.00 M322.48 298.60 V293.40 H376.44 V297.60 M425.62 306.60 V303.40 H433.26 V306.60 M448.54 306.60 V303.60 H456.18 V306.60 M440.90 306.60 V302.30 H452.36 V303.60 M429.44 303.40 V301.00 H446.63 V302.30 M463.82 306.60 V303.30 H471.46 V306.60 M467.64 303.30 V301.00 H479.10 V306.60 M438.03 301.00 V296.00 H473.37 V301.00 M349.46 293.4 V289.4 H455.70 V296" fill="none" stroke="#333" stroke-width="0.6"/>
<rect x="310.00" y="596.90" width="8.40" height="8.00" fill="#7f7f7f"/>
<text x="314.40" y="611.20" font-size="5.6" font-weight="normal" text-anchor="middle" fill="#222">Ctrl</text>
<rect x="340.40" y="596.90" width="8.40" height="8.00" fill="#c00000"/>
<text x="345.00" y="611.20" font-size="5.6" font-weight="normal" text-anchor="middle" fill="#222">VEGF-A</text>
<rect x="371.00" y="596.90" width="8.40" height="8.00" fill="#70ad47"/>
<text x="375.60" y="611.20" font-size="5.6" font-weight="normal" text-anchor="middle" fill="#222">FGF1</text>
<rect x="402.00" y="596.90" width="8.40" height="8.00" fill="#7030a0"/>
<text x="408.60" y="611.20" font-size="5.6" font-weight="normal" text-anchor="middle" fill="#222">VEGF-A+FGF1</text>
<defs><linearGradient id="cbar" x1="0" x2="1" y1="0" y2="0"><stop offset="0" stop-color="#0000ff"/><stop offset="0.2" stop-color="#1a10ff"/><stop offset="0.52" stop-color="#ffffff"/><stop offset="0.8" stop-color="#ff2a1a"/><stop offset="1" stop-color="#ff0000"/></linearGradient></defs>
<rect x="444.40" y="597.80" width="38.60" height="7.00" fill="url(#cbar)"/>
<text x="445.40" y="612.00" font-size="7.2" font-weight="normal" text-anchor="middle" fill="#222">0</text>
<text x="457.60" y="612.00" font-size="7.2" font-weight="normal" text-anchor="middle" fill="#222">5</text>
<text x="470.60" y="612.00" font-size="7.2" font-weight="normal" text-anchor="middle" fill="#222">10</text>
<text x="481.60" y="612.00" font-size="7.2" font-weight="normal" text-anchor="middle" fill="#222">15</text>
</svg>
</body></html>
